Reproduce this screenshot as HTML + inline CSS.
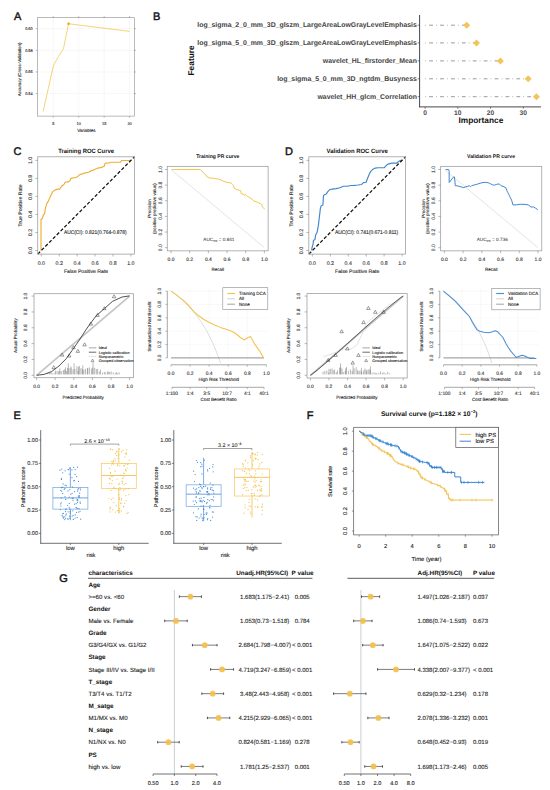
<!DOCTYPE html><html><head><meta charset="utf-8"><style>html,body{margin:0;padding:0;background:#fff;}svg{display:block;}text{text-rendering:geometricPrecision;}</style></head><body>
<svg width="550" height="790" viewBox="0 0 550 790" font-family='"Liberation Sans", sans-serif'>
<rect width="550" height="790" fill="#fff"/>
<text x="17.55" y="19.9" font-size="11" text-anchor="middle" fill="#111" stroke="#111" stroke-width="0.42">A</text>
<line x1="53.3" y1="17.7" x2="53.3" y2="116.1" stroke="#ECECEC" stroke-width="0.4"/>
<line x1="78.73" y1="17.7" x2="78.73" y2="116.1" stroke="#ECECEC" stroke-width="0.4"/>
<line x1="104.17" y1="17.7" x2="104.17" y2="116.1" stroke="#ECECEC" stroke-width="0.4"/>
<line x1="129.6" y1="17.7" x2="129.6" y2="116.1" stroke="#ECECEC" stroke-width="0.4"/>
<line x1="37.3" y1="28.7" x2="134.3" y2="28.7" stroke="#ECECEC" stroke-width="0.4"/>
<line x1="37.3" y1="50.33" x2="134.3" y2="50.33" stroke="#ECECEC" stroke-width="0.4"/>
<line x1="37.3" y1="71.97" x2="134.3" y2="71.97" stroke="#ECECEC" stroke-width="0.4"/>
<line x1="37.3" y1="93.6" x2="134.3" y2="93.6" stroke="#ECECEC" stroke-width="0.4"/>
<rect x="37.3" y="17.7" width="97" height="98.4" stroke="#8C8C8C" stroke-width="0.6" fill="none"/>
<line x1="53.3" y1="116.1" x2="53.3" y2="117.7" stroke="#666" stroke-width="0.45"/>
<line x1="53.3" y1="17.8" x2="53.3" y2="16.2" stroke="#666" stroke-width="0.45"/>
<text x="53.3" y="124.6" font-size="3.9" text-anchor="middle" fill="#222" stroke="#222" stroke-width="0.1">5</text>
<line x1="78.73" y1="116.1" x2="78.73" y2="117.7" stroke="#666" stroke-width="0.45"/>
<line x1="78.73" y1="17.8" x2="78.73" y2="16.2" stroke="#666" stroke-width="0.45"/>
<text x="78.73" y="124.6" font-size="3.9" text-anchor="middle" fill="#222" stroke="#222" stroke-width="0.1">10</text>
<line x1="104.17" y1="116.1" x2="104.17" y2="117.7" stroke="#666" stroke-width="0.45"/>
<line x1="104.17" y1="17.8" x2="104.17" y2="16.2" stroke="#666" stroke-width="0.45"/>
<text x="104.17" y="124.6" font-size="3.9" text-anchor="middle" fill="#222" stroke="#222" stroke-width="0.1">15</text>
<line x1="129.6" y1="116.1" x2="129.6" y2="117.7" stroke="#666" stroke-width="0.45"/>
<line x1="129.6" y1="17.8" x2="129.6" y2="16.2" stroke="#666" stroke-width="0.45"/>
<text x="129.6" y="124.6" font-size="3.9" text-anchor="middle" fill="#222" stroke="#222" stroke-width="0.1">20</text>
<line x1="37.3" y1="28.7" x2="35.7" y2="28.7" stroke="#666" stroke-width="0.45"/>
<line x1="134.3" y1="28.7" x2="135.9" y2="28.7" stroke="#666" stroke-width="0.45"/>
<text x="32.6" y="30.05" font-size="3.8" text-anchor="end" fill="#222" stroke="#222" stroke-width="0.1">0.60</text>
<line x1="37.3" y1="50.33" x2="35.7" y2="50.33" stroke="#666" stroke-width="0.45"/>
<line x1="134.3" y1="50.33" x2="135.9" y2="50.33" stroke="#666" stroke-width="0.45"/>
<text x="32.6" y="51.68" font-size="3.8" text-anchor="end" fill="#222" stroke="#222" stroke-width="0.1">0.58</text>
<line x1="37.3" y1="71.97" x2="35.7" y2="71.97" stroke="#666" stroke-width="0.45"/>
<line x1="134.3" y1="71.97" x2="135.9" y2="71.97" stroke="#666" stroke-width="0.45"/>
<text x="32.6" y="73.32" font-size="3.8" text-anchor="end" fill="#222" stroke="#222" stroke-width="0.1">0.56</text>
<line x1="37.3" y1="93.6" x2="35.7" y2="93.6" stroke="#666" stroke-width="0.45"/>
<line x1="134.3" y1="93.6" x2="135.9" y2="93.6" stroke="#666" stroke-width="0.45"/>
<text x="32.6" y="94.95" font-size="3.8" text-anchor="end" fill="#222" stroke="#222" stroke-width="0.1">0.54</text>
<text x="86.4" y="131.7" font-size="4.5" text-anchor="middle" fill="#222" stroke="#222" stroke-width="0.1">Variables</text>
<text x="20.9" y="69.4" font-size="4.35" text-anchor="middle" transform="rotate(-90 20.9 69.4)" fill="#222" stroke="#222" stroke-width="0.1">Accuracy (Cross-Validation)</text>
<polyline points="43.13,111.45 53.3,66.02 58.39,56.61 63.47,48.71 68.56,23.72 129.6,31.4" fill="none" stroke="#F4C448" stroke-width="0.75" stroke-linejoin="round"/>
<circle cx="68.56" cy="23.72" r="1.3" fill="#F0A500"/>
<text x="156.65" y="19.7" font-size="11" text-anchor="middle" fill="#111" stroke="#111" stroke-width="0.42">B</text>
<text x="416.9" y="27.2" font-size="6.92" text-anchor="end" font-weight="bold" fill="#444">log_sigma_2_0_mm_3D_glszm_LargeAreaLowGrayLevelEmphasis</text>
<line x1="417.6" y1="25.2" x2="419.6" y2="25.2" stroke="#333" stroke-width="0.6"/>
<line x1="425.2" y1="25.2" x2="466.67" y2="25.2" stroke="#9A9A9A" stroke-width="1.0" stroke-dasharray="0.7 3.3 3.8 3.1"/>
<path d="M466.67,21.7 L470.17,25.2 L466.67,28.7 L463.17,25.2 Z" fill="#F2C45A"/>
<text x="416.9" y="44.9" font-size="6.92" text-anchor="end" font-weight="bold" fill="#444">log_sigma_5_0_mm_3D_glszm_LargeAreaLowGrayLevelEmphasis</text>
<line x1="417.6" y1="42.9" x2="419.6" y2="42.9" stroke="#333" stroke-width="0.6"/>
<line x1="425.2" y1="42.9" x2="476.49" y2="42.9" stroke="#9A9A9A" stroke-width="1.0" stroke-dasharray="0.7 3.3 3.8 3.1"/>
<path d="M476.49,39.4 L479.99,42.9 L476.49,46.4 L472.99,42.9 Z" fill="#F2C45A"/>
<text x="416.9" y="62.9" font-size="6.92" text-anchor="end" font-weight="bold" fill="#444">wavelet_HL_firstorder_Mean</text>
<line x1="417.6" y1="60.9" x2="419.6" y2="60.9" stroke="#333" stroke-width="0.6"/>
<line x1="425.2" y1="60.9" x2="500.39" y2="60.9" stroke="#9A9A9A" stroke-width="1.0" stroke-dasharray="0.7 3.3 3.8 3.1"/>
<path d="M500.39,57.4 L503.89,60.9 L500.39,64.4 L496.89,60.9 Z" fill="#F2C45A"/>
<text x="416.9" y="80.8" font-size="6.92" text-anchor="end" font-weight="bold" fill="#444">log_sigma_5_0_mm_3D_ngtdm_Busyness</text>
<line x1="417.6" y1="78.8" x2="419.6" y2="78.8" stroke="#333" stroke-width="0.6"/>
<line x1="425.2" y1="78.8" x2="528.21" y2="78.8" stroke="#9A9A9A" stroke-width="1.0" stroke-dasharray="0.7 3.3 3.8 3.1"/>
<path d="M528.21,75.3 L531.71,78.8 L528.21,82.3 L524.71,78.8 Z" fill="#F2C45A"/>
<text x="416.9" y="98.7" font-size="6.92" text-anchor="end" font-weight="bold" fill="#444">wavelet_HH_glcm_Correlation</text>
<line x1="417.6" y1="96.7" x2="419.6" y2="96.7" stroke="#333" stroke-width="0.6"/>
<line x1="425.2" y1="96.7" x2="536.39" y2="96.7" stroke="#9A9A9A" stroke-width="1.0" stroke-dasharray="0.7 3.3 3.8 3.1"/>
<path d="M536.39,93.2 L539.89,96.7 L536.39,100.2 L532.89,96.7 Z" fill="#F2C45A"/>
<line x1="419.6" y1="15" x2="419.6" y2="107.2" stroke="#333" stroke-width="0.9"/>
<line x1="419.2" y1="106.9" x2="541" y2="106.9" stroke="#333" stroke-width="0.9"/>
<line x1="425.1" y1="106.9" x2="425.1" y2="108.8" stroke="#333" stroke-width="0.6"/>
<text x="425.1" y="114.9" font-size="6.7" text-anchor="middle" font-weight="bold" fill="#4D4D4D">0</text>
<line x1="457.83" y1="106.9" x2="457.83" y2="108.8" stroke="#333" stroke-width="0.6"/>
<text x="457.83" y="114.9" font-size="6.7" text-anchor="middle" font-weight="bold" fill="#4D4D4D">10</text>
<line x1="490.57" y1="106.9" x2="490.57" y2="108.8" stroke="#333" stroke-width="0.6"/>
<text x="490.57" y="114.9" font-size="6.7" text-anchor="middle" font-weight="bold" fill="#4D4D4D">20</text>
<line x1="523.3" y1="106.9" x2="523.3" y2="108.8" stroke="#333" stroke-width="0.6"/>
<text x="523.3" y="114.9" font-size="6.7" text-anchor="middle" font-weight="bold" fill="#4D4D4D">30</text>
<text x="480.9" y="122.7" font-size="8.3" text-anchor="middle" font-weight="bold" fill="#111">Importance</text>
<text x="193.8" y="60.4" font-size="8.4" text-anchor="middle" font-weight="bold" transform="rotate(-90 193.8 60.4)" fill="#111">Feature</text>
<text x="17.55" y="154.7" font-size="11" text-anchor="middle" fill="#111" stroke="#111" stroke-width="0.42">C</text>
<text x="289" y="154.7" font-size="11" text-anchor="middle" fill="#111" stroke="#111" stroke-width="0.42">D</text>
<text x="86.1" y="153.2" font-size="6.25" text-anchor="middle" font-weight="bold" textLength="55.8" lengthAdjust="spacingAndGlyphs" fill="#111">Training ROC Curve</text>
<polyline points="41,250.45 41,219.55 42.45,218.27 43.36,215 44.64,213.55 45.18,209.55 45.73,206.82 47,203.18 48.27,201.36 49.36,198.64 50.64,195.91 51.91,193.18 53,191.36 55.18,189.91 57.91,189.18 59.73,189.18 61.55,186.27 64.27,184.09 65.18,182.27 67.91,181.91 70.09,180.45 70.64,178.64 73.36,177.73 75.18,177.73 77.91,176.45 79.73,174.64 81.55,174.09 84.27,173.18 88.82,172.27 89.73,171.36 93.36,169.91 95.18,169.18 97.91,168.09 101.55,167.36 104.27,166.27 104.64,164.09 105.73,163.18 109.36,162.82 110.64,162.27 120.64,162.27 121.55,160.45 130.64,160.45" fill="none" stroke="#ECAF34" stroke-width="1.15" stroke-linejoin="round"/>
<line x1="37.72" y1="254.1" x2="134.48" y2="156.8" stroke="#111" stroke-width="1.25" stroke-dasharray="3.4 2.0"/>
<rect x="37.72" y="156.8" width="96.77" height="97.31" stroke="#A0A0A0" stroke-width="0.8" fill="none"/>
<line x1="41.3" y1="254.1" x2="41.3" y2="256.5" stroke="#888" stroke-width="0.6"/>
<text x="41.3" y="264.8" font-size="5.25" text-anchor="middle" fill="#333" stroke="#333" stroke-width="0.1">0.0</text>
<line x1="59.22" y1="254.1" x2="59.22" y2="256.5" stroke="#888" stroke-width="0.6"/>
<text x="59.22" y="264.8" font-size="5.25" text-anchor="middle" fill="#333" stroke="#333" stroke-width="0.1">0.2</text>
<line x1="77.14" y1="254.1" x2="77.14" y2="256.5" stroke="#888" stroke-width="0.6"/>
<text x="77.14" y="264.8" font-size="5.25" text-anchor="middle" fill="#333" stroke="#333" stroke-width="0.1">0.4</text>
<line x1="95.06" y1="254.1" x2="95.06" y2="256.5" stroke="#888" stroke-width="0.6"/>
<text x="95.06" y="264.8" font-size="5.25" text-anchor="middle" fill="#333" stroke="#333" stroke-width="0.1">0.6</text>
<line x1="112.98" y1="254.1" x2="112.98" y2="256.5" stroke="#888" stroke-width="0.6"/>
<text x="112.98" y="264.8" font-size="5.25" text-anchor="middle" fill="#333" stroke="#333" stroke-width="0.1">0.8</text>
<line x1="130.9" y1="254.1" x2="130.9" y2="256.5" stroke="#888" stroke-width="0.6"/>
<text x="130.9" y="264.8" font-size="5.25" text-anchor="middle" fill="#333" stroke="#333" stroke-width="0.1">1.0</text>
<line x1="37.72" y1="250.5" x2="35.32" y2="250.5" stroke="#888" stroke-width="0.6"/>
<text x="31.6" y="250.5" font-size="5.25" text-anchor="middle" transform="rotate(-90 31.6 250.5)" fill="#333" stroke="#333" stroke-width="0.1">0.0</text>
<line x1="37.72" y1="232.48" x2="35.32" y2="232.48" stroke="#888" stroke-width="0.6"/>
<text x="31.6" y="232.48" font-size="5.25" text-anchor="middle" transform="rotate(-90 31.6 232.48)" fill="#333" stroke="#333" stroke-width="0.1">0.2</text>
<line x1="37.72" y1="214.46" x2="35.32" y2="214.46" stroke="#888" stroke-width="0.6"/>
<text x="31.6" y="214.46" font-size="5.25" text-anchor="middle" transform="rotate(-90 31.6 214.46)" fill="#333" stroke="#333" stroke-width="0.1">0.4</text>
<line x1="37.72" y1="196.44" x2="35.32" y2="196.44" stroke="#888" stroke-width="0.6"/>
<text x="31.6" y="196.44" font-size="5.25" text-anchor="middle" transform="rotate(-90 31.6 196.44)" fill="#333" stroke="#333" stroke-width="0.1">0.6</text>
<line x1="37.72" y1="178.42" x2="35.32" y2="178.42" stroke="#888" stroke-width="0.6"/>
<text x="31.6" y="178.42" font-size="5.25" text-anchor="middle" transform="rotate(-90 31.6 178.42)" fill="#333" stroke="#333" stroke-width="0.1">0.8</text>
<line x1="37.72" y1="160.4" x2="35.32" y2="160.4" stroke="#888" stroke-width="0.6"/>
<text x="31.6" y="160.4" font-size="5.25" text-anchor="middle" transform="rotate(-90 31.6 160.4)" fill="#333" stroke="#333" stroke-width="0.1">1.0</text>
<text x="86.1" y="273.4" font-size="5.15" text-anchor="middle" fill="#222" stroke="#222" stroke-width="0.1">False Positive Rate</text>
<text x="22.1" y="205.45" font-size="5.15" text-anchor="middle" transform="rotate(-90 22.1 205.45)" fill="#222" stroke="#222" stroke-width="0.1">True Positive Rate</text>
<text x="63.9" y="234.1" font-size="5.3" textLength="62.7" lengthAdjust="spacingAndGlyphs" fill="#222" stroke="#222" stroke-width="0.1">AUC(CI): 0.821(0.764-0.878)</text>
<text x="357.2" y="153.2" font-size="6.25" text-anchor="middle" font-weight="bold" textLength="61.2" lengthAdjust="spacingAndGlyphs" fill="#111">Validation ROC Curve</text>
<polyline points="311.64,250.45 312,247.73 313.09,244.09 313.45,240.45 314.91,239.55 315.64,235 317.09,232.27 318,227.73 318.55,224.09 319.27,217.73 319.82,213.18 320.36,208.64 321.09,205.91 322.91,205 323.45,195.91 324,195 326.18,194.09 328,191.36 329.82,189.55 332.55,189.18 336.18,188.64 339.82,187.73 343.45,186.27 347.09,186.27 350.73,185.55 354.36,185.36 358,185 361.64,184.45 363.45,182.64 366.18,182.27 367.09,179.55 368.91,175 370.73,171.36 372.55,169.55 375.27,168.09 378,167.73 384.36,167.73 386.18,165.55 388,164.09 391.64,163.18 397.09,163.18 398,161.91 399.82,160.82 401.64,160.09" fill="none" stroke="#3F86CF" stroke-width="1.15" stroke-linejoin="round"/>
<line x1="308.82" y1="254.1" x2="405.58" y2="156.8" stroke="#111" stroke-width="1.25" stroke-dasharray="3.4 2.0"/>
<rect x="308.82" y="156.8" width="96.77" height="97.31" stroke="#A0A0A0" stroke-width="0.8" fill="none"/>
<line x1="312.4" y1="254.1" x2="312.4" y2="256.5" stroke="#888" stroke-width="0.6"/>
<text x="312.4" y="264.8" font-size="5.25" text-anchor="middle" fill="#333" stroke="#333" stroke-width="0.1">0.0</text>
<line x1="330.32" y1="254.1" x2="330.32" y2="256.5" stroke="#888" stroke-width="0.6"/>
<text x="330.32" y="264.8" font-size="5.25" text-anchor="middle" fill="#333" stroke="#333" stroke-width="0.1">0.2</text>
<line x1="348.24" y1="254.1" x2="348.24" y2="256.5" stroke="#888" stroke-width="0.6"/>
<text x="348.24" y="264.8" font-size="5.25" text-anchor="middle" fill="#333" stroke="#333" stroke-width="0.1">0.4</text>
<line x1="366.16" y1="254.1" x2="366.16" y2="256.5" stroke="#888" stroke-width="0.6"/>
<text x="366.16" y="264.8" font-size="5.25" text-anchor="middle" fill="#333" stroke="#333" stroke-width="0.1">0.6</text>
<line x1="384.08" y1="254.1" x2="384.08" y2="256.5" stroke="#888" stroke-width="0.6"/>
<text x="384.08" y="264.8" font-size="5.25" text-anchor="middle" fill="#333" stroke="#333" stroke-width="0.1">0.8</text>
<line x1="402" y1="254.1" x2="402" y2="256.5" stroke="#888" stroke-width="0.6"/>
<text x="402" y="264.8" font-size="5.25" text-anchor="middle" fill="#333" stroke="#333" stroke-width="0.1">1.0</text>
<line x1="308.82" y1="250.5" x2="306.42" y2="250.5" stroke="#888" stroke-width="0.6"/>
<text x="302.7" y="250.5" font-size="5.25" text-anchor="middle" transform="rotate(-90 302.7 250.5)" fill="#333" stroke="#333" stroke-width="0.1">0.0</text>
<line x1="308.82" y1="232.48" x2="306.42" y2="232.48" stroke="#888" stroke-width="0.6"/>
<text x="302.7" y="232.48" font-size="5.25" text-anchor="middle" transform="rotate(-90 302.7 232.48)" fill="#333" stroke="#333" stroke-width="0.1">0.2</text>
<line x1="308.82" y1="214.46" x2="306.42" y2="214.46" stroke="#888" stroke-width="0.6"/>
<text x="302.7" y="214.46" font-size="5.25" text-anchor="middle" transform="rotate(-90 302.7 214.46)" fill="#333" stroke="#333" stroke-width="0.1">0.4</text>
<line x1="308.82" y1="196.44" x2="306.42" y2="196.44" stroke="#888" stroke-width="0.6"/>
<text x="302.7" y="196.44" font-size="5.25" text-anchor="middle" transform="rotate(-90 302.7 196.44)" fill="#333" stroke="#333" stroke-width="0.1">0.6</text>
<line x1="308.82" y1="178.42" x2="306.42" y2="178.42" stroke="#888" stroke-width="0.6"/>
<text x="302.7" y="178.42" font-size="5.25" text-anchor="middle" transform="rotate(-90 302.7 178.42)" fill="#333" stroke="#333" stroke-width="0.1">0.8</text>
<line x1="308.82" y1="160.4" x2="306.42" y2="160.4" stroke="#888" stroke-width="0.6"/>
<text x="302.7" y="160.4" font-size="5.25" text-anchor="middle" transform="rotate(-90 302.7 160.4)" fill="#333" stroke="#333" stroke-width="0.1">1.0</text>
<text x="357.2" y="273.4" font-size="5.15" text-anchor="middle" fill="#222" stroke="#222" stroke-width="0.1">False Positive Rate</text>
<text x="293.2" y="205.45" font-size="5.15" text-anchor="middle" transform="rotate(-90 293.2 205.45)" fill="#222" stroke="#222" stroke-width="0.1">True Positive Rate</text>
<text x="334.9" y="234.1" font-size="5.3" textLength="63.3" lengthAdjust="spacingAndGlyphs" fill="#222" stroke="#222" stroke-width="0.1">AUC(CI): 0.741(0.671-0.811)</text>
<text x="217.8" y="157.5" font-size="5.3" text-anchor="middle" font-weight="bold" textLength="43.2" lengthAdjust="spacingAndGlyphs" fill="#111">Training PR curve</text>
<line x1="171" y1="169.5" x2="264.4" y2="247.7" stroke="#C8C8C8" stroke-width="0.5"/>
<polyline points="171.77,169.55 200.41,169.55 204.23,173.36 207.09,176.8 209.96,178.14 212.82,178.14 215.68,178.71 218.55,179.09 222.36,180.62 225.23,181.95 228.09,182.53 230.96,182.91 233.44,185.2 234.2,188.26 236.68,189.59 240.5,190.55 241.46,193.98 243.37,193.98 244.32,195.32 245.27,194.36 247.18,196.27 249.09,197.23 251.96,199.14 253.87,201.05 256.73,202 258.64,202.96 260.55,203.53 261.5,204.29 262.46,206.77 264.75,209.26" fill="none" stroke="#F4C64E" stroke-width="1.0" stroke-linejoin="round"/>
<rect x="167.26" y="166.37" width="100.87" height="84.46" stroke="#A0A0A0" stroke-width="0.8" fill="none"/>
<line x1="171" y1="250.83" x2="171" y2="253.23" stroke="#888" stroke-width="0.6"/>
<text x="171" y="261" font-size="4.95" text-anchor="middle" fill="#333" stroke="#333" stroke-width="0.1">0.0</text>
<line x1="189.68" y1="250.83" x2="189.68" y2="253.23" stroke="#888" stroke-width="0.6"/>
<text x="189.68" y="261" font-size="4.95" text-anchor="middle" fill="#333" stroke="#333" stroke-width="0.1">0.2</text>
<line x1="208.36" y1="250.83" x2="208.36" y2="253.23" stroke="#888" stroke-width="0.6"/>
<text x="208.36" y="261" font-size="4.95" text-anchor="middle" fill="#333" stroke="#333" stroke-width="0.1">0.4</text>
<line x1="227.04" y1="250.83" x2="227.04" y2="253.23" stroke="#888" stroke-width="0.6"/>
<text x="227.04" y="261" font-size="4.95" text-anchor="middle" fill="#333" stroke="#333" stroke-width="0.1">0.6</text>
<line x1="245.72" y1="250.83" x2="245.72" y2="253.23" stroke="#888" stroke-width="0.6"/>
<text x="245.72" y="261" font-size="4.95" text-anchor="middle" fill="#333" stroke="#333" stroke-width="0.1">0.8</text>
<line x1="264.4" y1="250.83" x2="264.4" y2="253.23" stroke="#888" stroke-width="0.6"/>
<text x="264.4" y="261" font-size="4.95" text-anchor="middle" fill="#333" stroke="#333" stroke-width="0.1">1.0</text>
<line x1="167.26" y1="247.7" x2="164.86" y2="247.7" stroke="#888" stroke-width="0.6"/>
<text x="161.76" y="247.7" font-size="4.95" text-anchor="middle" transform="rotate(-90 161.76 247.7)" fill="#333" stroke="#333" stroke-width="0.1">0.0</text>
<line x1="167.26" y1="232.06" x2="164.86" y2="232.06" stroke="#888" stroke-width="0.6"/>
<text x="161.76" y="232.06" font-size="4.95" text-anchor="middle" transform="rotate(-90 161.76 232.06)" fill="#333" stroke="#333" stroke-width="0.1">0.2</text>
<line x1="167.26" y1="216.42" x2="164.86" y2="216.42" stroke="#888" stroke-width="0.6"/>
<text x="161.76" y="216.42" font-size="4.95" text-anchor="middle" transform="rotate(-90 161.76 216.42)" fill="#333" stroke="#333" stroke-width="0.1">0.4</text>
<line x1="167.26" y1="200.78" x2="164.86" y2="200.78" stroke="#888" stroke-width="0.6"/>
<text x="161.76" y="200.78" font-size="4.95" text-anchor="middle" transform="rotate(-90 161.76 200.78)" fill="#333" stroke="#333" stroke-width="0.1">0.6</text>
<line x1="167.26" y1="185.14" x2="164.86" y2="185.14" stroke="#888" stroke-width="0.6"/>
<text x="161.76" y="185.14" font-size="4.95" text-anchor="middle" transform="rotate(-90 161.76 185.14)" fill="#333" stroke="#333" stroke-width="0.1">0.8</text>
<line x1="167.26" y1="169.5" x2="164.86" y2="169.5" stroke="#888" stroke-width="0.6"/>
<text x="161.76" y="169.5" font-size="4.95" text-anchor="middle" transform="rotate(-90 161.76 169.5)" fill="#333" stroke="#333" stroke-width="0.1">1.0</text>
<text x="217.7" y="271" font-size="4.5" text-anchor="middle" fill="#222" stroke="#222" stroke-width="0.1">Recall</text>
<text x="155.86" y="208.6" font-size="4.5" text-anchor="middle" transform="rotate(-90 155.86 208.6)" fill="#222" stroke="#222" stroke-width="0.1">(positive predictive value)</text>
<text x="151.16" y="208.6" font-size="4.5" text-anchor="middle" transform="rotate(-90 151.16 208.6)" fill="#222" stroke="#222" stroke-width="0.1">Precision</text>
<text x="203.3" y="240.9" font-size="4.7" fill="#222">AUC<tspan font-size="3.0" dy="0.9">PR</tspan><tspan dy="-0.9"> = 0.841</tspan></text>
<text x="491" y="157.5" font-size="5.3" text-anchor="middle" font-weight="bold" textLength="48" lengthAdjust="spacingAndGlyphs" fill="#111">Validation PR curve</text>
<line x1="444.4" y1="169.5" x2="538" y2="247.7" stroke="#C8C8C8" stroke-width="0.5"/>
<polyline points="445.73,169.55 448.59,169.55 449.16,171.45 449.16,182.53 450.5,181 451.84,179.09 453.36,177.18 454.32,176.8 454.89,181 455.27,185.77 457.18,185.77 459.09,186.35 461.95,187.11 463.86,187.68 465.77,186.73 467.68,186.35 469.59,185.77 470.55,186.73 471.5,185.77 473.41,185.2 476.27,184.44 480.09,183.29 482.96,182.53 485.82,182.34 488.68,182.91 490.59,183.86 492.5,184.82 494.41,185.2 496.32,184.44 499.18,183.86 501.09,185.77 503.96,186.73 505.86,187.68 506.82,190.55 507.77,192.46 508.73,194.36 509.68,196.27 510.64,198.18 511.59,200.09 512.16,202 512.93,204.86 516.37,204.86 520.18,204.29 524,204.29 528.2,204.86 529.73,205.82 530.68,206.96 533.55,206.96 535.46,208.11 537.75,209.64" fill="none" stroke="#3F86CF" stroke-width="1.0" stroke-linejoin="round"/>
<rect x="440.66" y="166.37" width="101.09" height="84.46" stroke="#A0A0A0" stroke-width="0.8" fill="none"/>
<line x1="444.4" y1="250.83" x2="444.4" y2="253.23" stroke="#888" stroke-width="0.6"/>
<text x="444.4" y="261" font-size="4.95" text-anchor="middle" fill="#333" stroke="#333" stroke-width="0.1">0.0</text>
<line x1="463.12" y1="250.83" x2="463.12" y2="253.23" stroke="#888" stroke-width="0.6"/>
<text x="463.12" y="261" font-size="4.95" text-anchor="middle" fill="#333" stroke="#333" stroke-width="0.1">0.2</text>
<line x1="481.84" y1="250.83" x2="481.84" y2="253.23" stroke="#888" stroke-width="0.6"/>
<text x="481.84" y="261" font-size="4.95" text-anchor="middle" fill="#333" stroke="#333" stroke-width="0.1">0.4</text>
<line x1="500.56" y1="250.83" x2="500.56" y2="253.23" stroke="#888" stroke-width="0.6"/>
<text x="500.56" y="261" font-size="4.95" text-anchor="middle" fill="#333" stroke="#333" stroke-width="0.1">0.6</text>
<line x1="519.28" y1="250.83" x2="519.28" y2="253.23" stroke="#888" stroke-width="0.6"/>
<text x="519.28" y="261" font-size="4.95" text-anchor="middle" fill="#333" stroke="#333" stroke-width="0.1">0.8</text>
<line x1="538" y1="250.83" x2="538" y2="253.23" stroke="#888" stroke-width="0.6"/>
<text x="538" y="261" font-size="4.95" text-anchor="middle" fill="#333" stroke="#333" stroke-width="0.1">1.0</text>
<line x1="440.66" y1="247.7" x2="438.26" y2="247.7" stroke="#888" stroke-width="0.6"/>
<text x="435.16" y="247.7" font-size="4.95" text-anchor="middle" transform="rotate(-90 435.16 247.7)" fill="#333" stroke="#333" stroke-width="0.1">0.0</text>
<line x1="440.66" y1="232.06" x2="438.26" y2="232.06" stroke="#888" stroke-width="0.6"/>
<text x="435.16" y="232.06" font-size="4.95" text-anchor="middle" transform="rotate(-90 435.16 232.06)" fill="#333" stroke="#333" stroke-width="0.1">0.2</text>
<line x1="440.66" y1="216.42" x2="438.26" y2="216.42" stroke="#888" stroke-width="0.6"/>
<text x="435.16" y="216.42" font-size="4.95" text-anchor="middle" transform="rotate(-90 435.16 216.42)" fill="#333" stroke="#333" stroke-width="0.1">0.4</text>
<line x1="440.66" y1="200.78" x2="438.26" y2="200.78" stroke="#888" stroke-width="0.6"/>
<text x="435.16" y="200.78" font-size="4.95" text-anchor="middle" transform="rotate(-90 435.16 200.78)" fill="#333" stroke="#333" stroke-width="0.1">0.6</text>
<line x1="440.66" y1="185.14" x2="438.26" y2="185.14" stroke="#888" stroke-width="0.6"/>
<text x="435.16" y="185.14" font-size="4.95" text-anchor="middle" transform="rotate(-90 435.16 185.14)" fill="#333" stroke="#333" stroke-width="0.1">0.8</text>
<line x1="440.66" y1="169.5" x2="438.26" y2="169.5" stroke="#888" stroke-width="0.6"/>
<text x="435.16" y="169.5" font-size="4.95" text-anchor="middle" transform="rotate(-90 435.16 169.5)" fill="#333" stroke="#333" stroke-width="0.1">1.0</text>
<text x="491.2" y="271" font-size="4.5" text-anchor="middle" fill="#222" stroke="#222" stroke-width="0.1">Recall</text>
<text x="429.26" y="208.6" font-size="4.5" text-anchor="middle" transform="rotate(-90 429.26 208.6)" fill="#222" stroke="#222" stroke-width="0.1">(positive predictive value)</text>
<text x="424.56" y="208.6" font-size="4.5" text-anchor="middle" transform="rotate(-90 424.56 208.6)" fill="#222" stroke="#222" stroke-width="0.1">Precision</text>
<text x="476.7" y="240.9" font-size="4.7" fill="#222">AUC<tspan font-size="3.0" dy="0.9">PR</tspan><tspan dy="-0.9"> = 0.736</tspan></text>
<line x1="47.76" y1="374.4" x2="47.76" y2="372.94" stroke="#6E6E6E" stroke-width="0.5"/>
<line x1="49.38" y1="374.4" x2="49.38" y2="372.62" stroke="#6E6E6E" stroke-width="0.5"/>
<line x1="51.06" y1="374.4" x2="51.06" y2="371.99" stroke="#6E6E6E" stroke-width="0.5"/>
<line x1="52.24" y1="374.4" x2="52.24" y2="373.34" stroke="#6E6E6E" stroke-width="0.5"/>
<line x1="54.13" y1="374.4" x2="54.13" y2="372.68" stroke="#6E6E6E" stroke-width="0.5"/>
<line x1="55.47" y1="374.4" x2="55.47" y2="370.7" stroke="#6E6E6E" stroke-width="0.5"/>
<line x1="57.02" y1="374.4" x2="57.02" y2="370.88" stroke="#6E6E6E" stroke-width="0.5"/>
<line x1="58.58" y1="374.4" x2="58.58" y2="371.18" stroke="#6E6E6E" stroke-width="0.5"/>
<line x1="59.83" y1="374.4" x2="59.83" y2="370.96" stroke="#6E6E6E" stroke-width="0.5"/>
<line x1="61.76" y1="374.4" x2="61.76" y2="370.95" stroke="#6E6E6E" stroke-width="0.5"/>
<line x1="63.56" y1="374.4" x2="63.56" y2="369.96" stroke="#6E6E6E" stroke-width="0.5"/>
<line x1="64.74" y1="374.4" x2="64.74" y2="369.27" stroke="#6E6E6E" stroke-width="0.5"/>
<line x1="66.4" y1="374.4" x2="66.4" y2="370.91" stroke="#6E6E6E" stroke-width="0.5"/>
<line x1="67.55" y1="374.4" x2="67.55" y2="367.9" stroke="#6E6E6E" stroke-width="0.5"/>
<line x1="69.1" y1="374.4" x2="69.1" y2="368.21" stroke="#6E6E6E" stroke-width="0.5"/>
<line x1="71.04" y1="374.4" x2="71.04" y2="367.79" stroke="#6E6E6E" stroke-width="0.5"/>
<line x1="73.01" y1="374.4" x2="73.01" y2="369.37" stroke="#6E6E6E" stroke-width="0.5"/>
<line x1="74.87" y1="374.4" x2="74.87" y2="368.94" stroke="#6E6E6E" stroke-width="0.5"/>
<line x1="76.86" y1="374.4" x2="76.86" y2="366.25" stroke="#6E6E6E" stroke-width="0.5"/>
<line x1="78.06" y1="374.4" x2="78.06" y2="370.85" stroke="#6E6E6E" stroke-width="0.5"/>
<line x1="79.38" y1="374.4" x2="79.38" y2="365.92" stroke="#6E6E6E" stroke-width="0.5"/>
<line x1="80.9" y1="374.4" x2="80.9" y2="368.11" stroke="#6E6E6E" stroke-width="0.5"/>
<line x1="82.3" y1="374.4" x2="82.3" y2="368.95" stroke="#6E6E6E" stroke-width="0.5"/>
<line x1="83.77" y1="374.4" x2="83.77" y2="369.96" stroke="#6E6E6E" stroke-width="0.5"/>
<line x1="85.43" y1="374.4" x2="85.43" y2="368.78" stroke="#6E6E6E" stroke-width="0.5"/>
<line x1="87.39" y1="374.4" x2="87.39" y2="368.35" stroke="#6E6E6E" stroke-width="0.5"/>
<line x1="89.37" y1="374.4" x2="89.37" y2="367.48" stroke="#6E6E6E" stroke-width="0.5"/>
<line x1="91.41" y1="374.4" x2="91.41" y2="368.54" stroke="#6E6E6E" stroke-width="0.5"/>
<line x1="92.68" y1="374.4" x2="92.68" y2="367.65" stroke="#6E6E6E" stroke-width="0.5"/>
<line x1="94.69" y1="374.4" x2="94.69" y2="367.73" stroke="#6E6E6E" stroke-width="0.5"/>
<line x1="96.33" y1="374.4" x2="96.33" y2="369" stroke="#6E6E6E" stroke-width="0.5"/>
<line x1="97.65" y1="374.4" x2="97.65" y2="368.81" stroke="#6E6E6E" stroke-width="0.5"/>
<line x1="99.3" y1="374.4" x2="99.3" y2="371.5" stroke="#6E6E6E" stroke-width="0.5"/>
<line x1="100.47" y1="374.4" x2="100.47" y2="369.62" stroke="#6E6E6E" stroke-width="0.5"/>
<line x1="102.51" y1="374.4" x2="102.51" y2="372.7" stroke="#6E6E6E" stroke-width="0.5"/>
<line x1="104.37" y1="374.4" x2="104.37" y2="371.99" stroke="#6E6E6E" stroke-width="0.5"/>
<line x1="105.62" y1="374.4" x2="105.62" y2="372.47" stroke="#6E6E6E" stroke-width="0.5"/>
<line x1="107.46" y1="374.4" x2="107.46" y2="371.25" stroke="#6E6E6E" stroke-width="0.5"/>
<line x1="108.61" y1="374.4" x2="108.61" y2="371.97" stroke="#6E6E6E" stroke-width="0.5"/>
<line x1="109.77" y1="374.4" x2="109.77" y2="371.82" stroke="#6E6E6E" stroke-width="0.5"/>
<line x1="111.19" y1="374.4" x2="111.19" y2="371.54" stroke="#6E6E6E" stroke-width="0.5"/>
<line x1="113.22" y1="374.4" x2="113.22" y2="372.4" stroke="#6E6E6E" stroke-width="0.5"/>
<line x1="115.27" y1="374.4" x2="115.27" y2="372.83" stroke="#6E6E6E" stroke-width="0.5"/>
<line x1="116.45" y1="374.4" x2="116.45" y2="372.23" stroke="#6E6E6E" stroke-width="0.5"/>
<line x1="117.6" y1="374.4" x2="117.6" y2="373.07" stroke="#6E6E6E" stroke-width="0.5"/>
<line x1="119.1" y1="374.4" x2="119.1" y2="372.21" stroke="#6E6E6E" stroke-width="0.5"/>
<line x1="68.31" y1="374.4" x2="68.31" y2="363.4" stroke="#6E6E6E" stroke-width="0.5"/>
<line x1="74.08" y1="374.4" x2="74.08" y2="363.4" stroke="#6E6E6E" stroke-width="0.5"/>
<line x1="70.92" y1="374.4" x2="70.92" y2="366.4" stroke="#6E6E6E" stroke-width="0.5"/>
<line x1="93.05" y1="374.4" x2="93.05" y2="362.4" stroke="#6E6E6E" stroke-width="0.5"/>
<line x1="65.43" y1="374.4" x2="65.43" y2="367.4" stroke="#6E6E6E" stroke-width="0.5"/>
<line x1="82.82" y1="374.4" x2="82.82" y2="365.4" stroke="#6E6E6E" stroke-width="0.5"/>
<line x1="87.75" y1="374.4" x2="87.75" y2="367.9" stroke="#6E6E6E" stroke-width="0.5"/>
<line x1="78.45" y1="374.4" x2="78.45" y2="366.9" stroke="#6E6E6E" stroke-width="0.5"/>
<line x1="59.85" y1="374.4" x2="59.85" y2="368.4" stroke="#6E6E6E" stroke-width="0.5"/>
<line x1="36.6" y1="375.3" x2="129.6" y2="296.1" stroke="#C4C4C4" stroke-width="1.7"/>
<polyline points="36.6,375.3 44.13,374.35 51.57,371.58 58.92,366.03 66.36,358.59 72.87,349.32 79.38,340.06 85.89,329.84 90.54,323.34 96.03,315.98 104.4,308.53 112.77,301.17 121.97,297.05 129.6,295.86" fill="none" stroke="#333" stroke-width="0.85" stroke-linejoin="round"/>
<path d="M53.77,365.64 L55.52,368.69 L52.02,368.69 Z" fill="none" stroke="#3A3A3A" stroke-width="0.5"/>
<path d="M62.12,353.05 L63.87,356.1 L60.37,356.1 Z" fill="none" stroke="#3A3A3A" stroke-width="0.5"/>
<path d="M69.15,353.92 L70.9,356.97 L67.4,356.97 Z" fill="none" stroke="#3A3A3A" stroke-width="0.5"/>
<path d="M73.43,345.6 L75.18,348.65 L71.68,348.65 Z" fill="none" stroke="#3A3A3A" stroke-width="0.5"/>
<path d="M77.89,349.32 L79.64,352.37 L76.14,352.37 Z" fill="none" stroke="#3A3A3A" stroke-width="0.5"/>
<path d="M84.59,342.83 L86.34,345.88 L82.84,345.88 Z" fill="none" stroke="#3A3A3A" stroke-width="0.5"/>
<path d="M90.82,322.08 L92.57,325.13 L89.07,325.13 Z" fill="none" stroke="#3A3A3A" stroke-width="0.5"/>
<path d="M97.52,313.37 L99.27,316.42 L95.77,316.42 Z" fill="none" stroke="#3A3A3A" stroke-width="0.5"/>
<path d="M104.4,306.63 L106.15,309.68 L102.65,309.68 Z" fill="none" stroke="#3A3A3A" stroke-width="0.5"/>
<path d="M114.07,294.75 L115.82,297.8 L112.32,297.8 Z" fill="none" stroke="#3A3A3A" stroke-width="0.5"/>
<rect x="34" y="293.7" width="99.4" height="84" stroke="#A0A0A0" stroke-width="0.8" fill="none"/>
<line x1="36.6" y1="377.7" x2="36.6" y2="380.1" stroke="#888" stroke-width="0.6"/>
<text x="36.6" y="387.6" font-size="4.85" text-anchor="middle" fill="#333" stroke="#333" stroke-width="0.1">0.0</text>
<line x1="55.2" y1="377.7" x2="55.2" y2="380.1" stroke="#888" stroke-width="0.6"/>
<text x="55.2" y="387.6" font-size="4.85" text-anchor="middle" fill="#333" stroke="#333" stroke-width="0.1">0.2</text>
<line x1="73.8" y1="377.7" x2="73.8" y2="380.1" stroke="#888" stroke-width="0.6"/>
<text x="73.8" y="387.6" font-size="4.85" text-anchor="middle" fill="#333" stroke="#333" stroke-width="0.1">0.4</text>
<line x1="92.4" y1="377.7" x2="92.4" y2="380.1" stroke="#888" stroke-width="0.6"/>
<text x="92.4" y="387.6" font-size="4.85" text-anchor="middle" fill="#333" stroke="#333" stroke-width="0.1">0.6</text>
<line x1="111" y1="377.7" x2="111" y2="380.1" stroke="#888" stroke-width="0.6"/>
<text x="111" y="387.6" font-size="4.85" text-anchor="middle" fill="#333" stroke="#333" stroke-width="0.1">0.8</text>
<line x1="129.6" y1="377.7" x2="129.6" y2="380.1" stroke="#888" stroke-width="0.6"/>
<text x="129.6" y="387.6" font-size="4.85" text-anchor="middle" fill="#333" stroke="#333" stroke-width="0.1">1.0</text>
<line x1="34" y1="375.3" x2="31.6" y2="375.3" stroke="#888" stroke-width="0.6"/>
<text x="27.5" y="375.3" font-size="4.85" text-anchor="middle" transform="rotate(-90 27.5 375.3)" fill="#333" stroke="#333" stroke-width="0.1">0.0</text>
<line x1="34" y1="359.46" x2="31.6" y2="359.46" stroke="#888" stroke-width="0.6"/>
<text x="27.5" y="359.46" font-size="4.85" text-anchor="middle" transform="rotate(-90 27.5 359.46)" fill="#333" stroke="#333" stroke-width="0.1">0.2</text>
<line x1="34" y1="343.62" x2="31.6" y2="343.62" stroke="#888" stroke-width="0.6"/>
<text x="27.5" y="343.62" font-size="4.85" text-anchor="middle" transform="rotate(-90 27.5 343.62)" fill="#333" stroke="#333" stroke-width="0.1">0.4</text>
<line x1="34" y1="327.78" x2="31.6" y2="327.78" stroke="#888" stroke-width="0.6"/>
<text x="27.5" y="327.78" font-size="4.85" text-anchor="middle" transform="rotate(-90 27.5 327.78)" fill="#333" stroke="#333" stroke-width="0.1">0.6</text>
<line x1="34" y1="311.94" x2="31.6" y2="311.94" stroke="#888" stroke-width="0.6"/>
<text x="27.5" y="311.94" font-size="4.85" text-anchor="middle" transform="rotate(-90 27.5 311.94)" fill="#333" stroke="#333" stroke-width="0.1">0.8</text>
<line x1="34" y1="296.1" x2="31.6" y2="296.1" stroke="#888" stroke-width="0.6"/>
<text x="27.5" y="296.1" font-size="4.85" text-anchor="middle" transform="rotate(-90 27.5 296.1)" fill="#333" stroke="#333" stroke-width="0.1">1.0</text>
<text x="83.1" y="399" font-size="4.5" text-anchor="middle" fill="#222" stroke="#222" stroke-width="0.1">Predicted Probability</text>
<text x="16.6" y="335.7" font-size="4.5" text-anchor="middle" transform="rotate(-90 16.6 335.7)" fill="#222" stroke="#222" stroke-width="0.1">Actual Probability</text>
<line x1="88.8" y1="347.8" x2="96.3" y2="347.8" stroke="#C4C4C4" stroke-width="1.5"/>
<line x1="88.8" y1="352.2" x2="96.3" y2="352.2" stroke="#3A3A3A" stroke-width="0.75"/>
<line x1="88.8" y1="356.4" x2="96.3" y2="356.4" stroke="#CFCFCF" stroke-width="0.6"/>
<path d="M92.55,359.1 L94,361.65 L91.1,361.65 Z" fill="none" stroke="#3A3A3A" stroke-width="0.45"/>
<text x="98.7" y="349.1" font-size="3.75" fill="#222" stroke="#222" stroke-width="0.1">Ideal</text>
<text x="98.7" y="353.5" font-size="3.75" fill="#222" stroke="#222" stroke-width="0.1">Logistic calibration</text>
<text x="98.7" y="357.7" font-size="3.75" fill="#222" stroke="#222" stroke-width="0.1">Nonparametric</text>
<text x="98.7" y="362" font-size="3.75" fill="#222" stroke="#222" stroke-width="0.1">Grouped observation</text>
<line x1="323.02" y1="374.4" x2="323.02" y2="371.67" stroke="#6E6E6E" stroke-width="0.5"/>
<line x1="324.82" y1="374.4" x2="324.82" y2="370.92" stroke="#6E6E6E" stroke-width="0.5"/>
<line x1="326.81" y1="374.4" x2="326.81" y2="370.64" stroke="#6E6E6E" stroke-width="0.5"/>
<line x1="328.78" y1="374.4" x2="328.78" y2="372.69" stroke="#6E6E6E" stroke-width="0.5"/>
<line x1="330.33" y1="374.4" x2="330.33" y2="368.85" stroke="#6E6E6E" stroke-width="0.5"/>
<line x1="332.04" y1="374.4" x2="332.04" y2="368.44" stroke="#6E6E6E" stroke-width="0.5"/>
<line x1="333.26" y1="374.4" x2="333.26" y2="370.09" stroke="#6E6E6E" stroke-width="0.5"/>
<line x1="334.6" y1="374.4" x2="334.6" y2="369.46" stroke="#6E6E6E" stroke-width="0.5"/>
<line x1="336.25" y1="374.4" x2="336.25" y2="371.98" stroke="#6E6E6E" stroke-width="0.5"/>
<line x1="337.56" y1="374.4" x2="337.56" y2="370.47" stroke="#6E6E6E" stroke-width="0.5"/>
<line x1="339.53" y1="374.4" x2="339.53" y2="367.7" stroke="#6E6E6E" stroke-width="0.5"/>
<line x1="340.79" y1="374.4" x2="340.79" y2="367.53" stroke="#6E6E6E" stroke-width="0.5"/>
<line x1="342.03" y1="374.4" x2="342.03" y2="368.57" stroke="#6E6E6E" stroke-width="0.5"/>
<line x1="343.26" y1="374.4" x2="343.26" y2="371.98" stroke="#6E6E6E" stroke-width="0.5"/>
<line x1="345.19" y1="374.4" x2="345.19" y2="370.95" stroke="#6E6E6E" stroke-width="0.5"/>
<line x1="346.5" y1="374.4" x2="346.5" y2="366.98" stroke="#6E6E6E" stroke-width="0.5"/>
<line x1="348.42" y1="374.4" x2="348.42" y2="370.64" stroke="#6E6E6E" stroke-width="0.5"/>
<line x1="350.43" y1="374.4" x2="350.43" y2="369.35" stroke="#6E6E6E" stroke-width="0.5"/>
<line x1="352.17" y1="374.4" x2="352.17" y2="371.03" stroke="#6E6E6E" stroke-width="0.5"/>
<line x1="354.16" y1="374.4" x2="354.16" y2="368.42" stroke="#6E6E6E" stroke-width="0.5"/>
<line x1="356.17" y1="374.4" x2="356.17" y2="367.25" stroke="#6E6E6E" stroke-width="0.5"/>
<line x1="357.56" y1="374.4" x2="357.56" y2="370.09" stroke="#6E6E6E" stroke-width="0.5"/>
<line x1="358.83" y1="374.4" x2="358.83" y2="371.26" stroke="#6E6E6E" stroke-width="0.5"/>
<line x1="360" y1="374.4" x2="360" y2="370.48" stroke="#6E6E6E" stroke-width="0.5"/>
<line x1="361.67" y1="374.4" x2="361.67" y2="372.12" stroke="#6E6E6E" stroke-width="0.5"/>
<line x1="363.42" y1="374.4" x2="363.42" y2="370.61" stroke="#6E6E6E" stroke-width="0.5"/>
<line x1="364.82" y1="374.4" x2="364.82" y2="368.6" stroke="#6E6E6E" stroke-width="0.5"/>
<line x1="366.38" y1="374.4" x2="366.38" y2="371.14" stroke="#6E6E6E" stroke-width="0.5"/>
<line x1="367.94" y1="374.4" x2="367.94" y2="369.85" stroke="#6E6E6E" stroke-width="0.5"/>
<line x1="369.1" y1="374.4" x2="369.1" y2="369.12" stroke="#6E6E6E" stroke-width="0.5"/>
<line x1="370.24" y1="374.4" x2="370.24" y2="370.23" stroke="#6E6E6E" stroke-width="0.5"/>
<line x1="372.14" y1="374.4" x2="372.14" y2="372.95" stroke="#6E6E6E" stroke-width="0.5"/>
<line x1="373.98" y1="374.4" x2="373.98" y2="372.09" stroke="#6E6E6E" stroke-width="0.5"/>
<line x1="375.63" y1="374.4" x2="375.63" y2="373.2" stroke="#6E6E6E" stroke-width="0.5"/>
<line x1="376.79" y1="374.4" x2="376.79" y2="372.82" stroke="#6E6E6E" stroke-width="0.5"/>
<line x1="378.79" y1="374.4" x2="378.79" y2="372.89" stroke="#6E6E6E" stroke-width="0.5"/>
<line x1="380.6" y1="374.4" x2="380.6" y2="371.31" stroke="#6E6E6E" stroke-width="0.5"/>
<line x1="382.59" y1="374.4" x2="382.59" y2="372.68" stroke="#6E6E6E" stroke-width="0.5"/>
<line x1="384.03" y1="374.4" x2="384.03" y2="372.33" stroke="#6E6E6E" stroke-width="0.5"/>
<line x1="385.87" y1="374.4" x2="385.87" y2="373.23" stroke="#6E6E6E" stroke-width="0.5"/>
<line x1="387.68" y1="374.4" x2="387.68" y2="371.8" stroke="#6E6E6E" stroke-width="0.5"/>
<line x1="389.59" y1="374.4" x2="389.59" y2="373.4" stroke="#6E6E6E" stroke-width="0.5"/>
<line x1="340.56" y1="374.4" x2="340.56" y2="363.4" stroke="#6E6E6E" stroke-width="0.5"/>
<line x1="353.09" y1="374.4" x2="353.09" y2="365.4" stroke="#6E6E6E" stroke-width="0.5"/>
<line x1="370.44" y1="374.4" x2="370.44" y2="366.4" stroke="#6E6E6E" stroke-width="0.5"/>
<line x1="328.96" y1="374.4" x2="328.96" y2="368.9" stroke="#6E6E6E" stroke-width="0.5"/>
<line x1="345.66" y1="374.4" x2="345.66" y2="368.4" stroke="#6E6E6E" stroke-width="0.5"/>
<line x1="361.44" y1="374.4" x2="361.44" y2="367.9" stroke="#6E6E6E" stroke-width="0.5"/>
<line x1="366.08" y1="374.4" x2="366.08" y2="369.4" stroke="#6E6E6E" stroke-width="0.5"/>
<line x1="310.4" y1="375.3" x2="403.2" y2="296.1" stroke="#C4C4C4" stroke-width="1.7"/>
<polyline points="323.11,356.85 333.6,353.12 343.16,349.16 350.77,349.16 356.52,345.36 362.28,333.88 366.08,324.37 373.69,316.69 381.39,310.99 390.95,303.39" fill="none" stroke="#CFCFCF" stroke-width="0.6" stroke-linejoin="round"/>
<polyline points="310.4,375.3 311.33,374.68 312.26,374 313.18,373.3 314.11,372.59 315.04,371.86 315.97,371.12 316.9,370.37 317.82,369.61 318.75,368.85 319.68,368.08 320.61,367.3 321.54,366.52 322.46,365.73 323.39,364.94 324.32,364.15 325.25,363.35 326.18,362.55 327.1,361.74 328.03,360.93 328.96,360.12 329.89,359.31 330.82,358.49 331.74,357.67 332.67,356.85 333.6,356.03 334.53,355.2 335.46,354.38 336.38,353.55 337.31,352.72 338.24,351.89 339.17,351.05 340.1,350.22 341.02,349.38 341.95,348.55 342.88,347.71 343.81,346.87 344.74,346.03 345.66,345.19 346.59,344.35 347.52,343.51 348.45,342.67 349.38,341.83 350.3,340.99 351.23,340.15 352.16,339.31 353.09,338.47 354.02,337.63 354.94,336.79 355.87,335.95 356.8,335.11 357.73,334.27 358.66,333.43 359.58,332.59 360.51,331.75 361.44,330.92 362.37,330.08 363.3,329.25 364.22,328.42 365.15,327.58 366.08,326.75 367.01,325.92 367.94,325.1 368.86,324.27 369.79,323.45 370.72,322.62 371.65,321.8 372.58,320.98 373.5,320.17 374.43,319.35 375.36,318.54 376.29,317.73 377.22,316.92 378.14,316.11 379.07,315.31 380,314.51 380.93,313.71 381.86,312.92 382.78,312.13 383.71,311.34 384.64,310.55 385.57,309.77 386.5,309 387.42,308.22 388.35,307.45 389.28,306.69 390.21,305.93 391.14,305.17 392.06,304.42 392.99,303.68 393.92,302.94 394.85,302.21 395.78,301.48 396.7,300.76 397.63,300.05 398.56,299.35 399.49,298.66 400.42,297.98 401.34,297.32 402.27,296.68 403.2,296.1" fill="none" stroke="#333" stroke-width="0.85" stroke-linejoin="round"/>
<path d="M328.29,358.35 L330.04,361.4 L326.54,361.4 Z" fill="none" stroke="#3A3A3A" stroke-width="0.5"/>
<path d="M335.55,353.36 L337.3,356.41 L333.8,356.41 Z" fill="none" stroke="#3A3A3A" stroke-width="0.5"/>
<path d="M341.66,329.68 L343.41,332.73 L339.91,332.73 Z" fill="none" stroke="#3A3A3A" stroke-width="0.5"/>
<path d="M347.38,346.87 L349.13,349.92 L345.63,349.92 Z" fill="none" stroke="#3A3A3A" stroke-width="0.5"/>
<path d="M358.47,353.36 L360.22,356.41 L356.72,356.41 Z" fill="none" stroke="#3A3A3A" stroke-width="0.5"/>
<path d="M352.72,361.04 L354.47,364.09 L350.97,364.09 Z" fill="none" stroke="#3A3A3A" stroke-width="0.5"/>
<path d="M363.57,320.57 L365.32,323.62 L361.82,323.62 Z" fill="none" stroke="#3A3A3A" stroke-width="0.5"/>
<path d="M368.4,306.4 L370.15,309.45 L366.65,309.45 Z" fill="none" stroke="#3A3A3A" stroke-width="0.5"/>
<path d="M375.27,310.28 L377.02,313.33 L373.52,313.33 Z" fill="none" stroke="#3A3A3A" stroke-width="0.5"/>
<path d="M383.62,310.28 L385.37,313.33 L381.87,313.33 Z" fill="none" stroke="#3A3A3A" stroke-width="0.5"/>
<rect x="307" y="293.6" width="100.2" height="84.4" stroke="#A0A0A0" stroke-width="0.8" fill="none"/>
<line x1="310.4" y1="378" x2="310.4" y2="380.4" stroke="#888" stroke-width="0.6"/>
<text x="310.4" y="387.6" font-size="4.85" text-anchor="middle" fill="#333" stroke="#333" stroke-width="0.1">0.0</text>
<line x1="328.96" y1="378" x2="328.96" y2="380.4" stroke="#888" stroke-width="0.6"/>
<text x="328.96" y="387.6" font-size="4.85" text-anchor="middle" fill="#333" stroke="#333" stroke-width="0.1">0.2</text>
<line x1="347.52" y1="378" x2="347.52" y2="380.4" stroke="#888" stroke-width="0.6"/>
<text x="347.52" y="387.6" font-size="4.85" text-anchor="middle" fill="#333" stroke="#333" stroke-width="0.1">0.4</text>
<line x1="366.08" y1="378" x2="366.08" y2="380.4" stroke="#888" stroke-width="0.6"/>
<text x="366.08" y="387.6" font-size="4.85" text-anchor="middle" fill="#333" stroke="#333" stroke-width="0.1">0.6</text>
<line x1="384.64" y1="378" x2="384.64" y2="380.4" stroke="#888" stroke-width="0.6"/>
<text x="384.64" y="387.6" font-size="4.85" text-anchor="middle" fill="#333" stroke="#333" stroke-width="0.1">0.8</text>
<line x1="403.2" y1="378" x2="403.2" y2="380.4" stroke="#888" stroke-width="0.6"/>
<text x="403.2" y="387.6" font-size="4.85" text-anchor="middle" fill="#333" stroke="#333" stroke-width="0.1">1.0</text>
<line x1="307" y1="375.3" x2="304.6" y2="375.3" stroke="#888" stroke-width="0.6"/>
<text x="300.5" y="375.3" font-size="4.85" text-anchor="middle" transform="rotate(-90 300.5 375.3)" fill="#333" stroke="#333" stroke-width="0.1">0.0</text>
<line x1="307" y1="359.46" x2="304.6" y2="359.46" stroke="#888" stroke-width="0.6"/>
<text x="300.5" y="359.46" font-size="4.85" text-anchor="middle" transform="rotate(-90 300.5 359.46)" fill="#333" stroke="#333" stroke-width="0.1">0.2</text>
<line x1="307" y1="343.62" x2="304.6" y2="343.62" stroke="#888" stroke-width="0.6"/>
<text x="300.5" y="343.62" font-size="4.85" text-anchor="middle" transform="rotate(-90 300.5 343.62)" fill="#333" stroke="#333" stroke-width="0.1">0.4</text>
<line x1="307" y1="327.78" x2="304.6" y2="327.78" stroke="#888" stroke-width="0.6"/>
<text x="300.5" y="327.78" font-size="4.85" text-anchor="middle" transform="rotate(-90 300.5 327.78)" fill="#333" stroke="#333" stroke-width="0.1">0.6</text>
<line x1="307" y1="311.94" x2="304.6" y2="311.94" stroke="#888" stroke-width="0.6"/>
<text x="300.5" y="311.94" font-size="4.85" text-anchor="middle" transform="rotate(-90 300.5 311.94)" fill="#333" stroke="#333" stroke-width="0.1">0.8</text>
<line x1="307" y1="296.1" x2="304.6" y2="296.1" stroke="#888" stroke-width="0.6"/>
<text x="300.5" y="296.1" font-size="4.85" text-anchor="middle" transform="rotate(-90 300.5 296.1)" fill="#333" stroke="#333" stroke-width="0.1">1.0</text>
<text x="356.8" y="399" font-size="4.5" text-anchor="middle" fill="#222" stroke="#222" stroke-width="0.1">Predicted Probability</text>
<text x="289.6" y="335.7" font-size="4.5" text-anchor="middle" transform="rotate(-90 289.6 335.7)" fill="#222" stroke="#222" stroke-width="0.1">Actual Probability</text>
<line x1="362.4" y1="347.8" x2="369.9" y2="347.8" stroke="#C4C4C4" stroke-width="1.5"/>
<line x1="362.4" y1="352.2" x2="369.9" y2="352.2" stroke="#3A3A3A" stroke-width="0.75"/>
<line x1="362.4" y1="356.4" x2="369.9" y2="356.4" stroke="#CFCFCF" stroke-width="0.6"/>
<path d="M366.15,359.1 L367.6,361.65 L364.7,361.65 Z" fill="none" stroke="#3A3A3A" stroke-width="0.45"/>
<text x="372.3" y="349.1" font-size="3.75" fill="#222" stroke="#222" stroke-width="0.1">Ideal</text>
<text x="372.3" y="353.5" font-size="3.75" fill="#222" stroke="#222" stroke-width="0.1">Logistic calibration</text>
<text x="372.3" y="357.7" font-size="3.75" fill="#222" stroke="#222" stroke-width="0.1">Nonparametric</text>
<text x="372.3" y="362" font-size="3.75" fill="#222" stroke="#222" stroke-width="0.1">Grouped observation</text>
<line x1="190.08" y1="289" x2="190.08" y2="361" stroke="#EFEFEF" stroke-width="0.4"/>
<line x1="209.16" y1="289" x2="209.16" y2="361" stroke="#EFEFEF" stroke-width="0.4"/>
<line x1="228.24" y1="289" x2="228.24" y2="361" stroke="#EFEFEF" stroke-width="0.4"/>
<line x1="247.32" y1="289" x2="247.32" y2="361" stroke="#EFEFEF" stroke-width="0.4"/>
<line x1="169.09" y1="344.54" x2="268.31" y2="344.54" stroke="#EFEFEF" stroke-width="0.4"/>
<line x1="169.09" y1="331.18" x2="268.31" y2="331.18" stroke="#EFEFEF" stroke-width="0.4"/>
<line x1="169.09" y1="317.82" x2="268.31" y2="317.82" stroke="#EFEFEF" stroke-width="0.4"/>
<line x1="169.09" y1="304.46" x2="268.31" y2="304.46" stroke="#EFEFEF" stroke-width="0.4"/>
<line x1="169.09" y1="291.1" x2="268.31" y2="291.1" stroke="#EFEFEF" stroke-width="0.4"/>
<polyline points="171,291.1 171.95,291.77 172.91,292.46 173.86,293.17 174.82,293.88 175.77,294.62 176.72,295.36 177.68,296.13 178.63,296.91 179.59,297.71 180.54,298.52 181.49,299.36 182.45,300.21 183.4,301.08 184.36,301.97 185.31,302.89 186.26,303.82 187.22,304.78 188.17,305.76 189.13,306.77 190.08,307.8 191.03,308.86 191.99,309.94 192.94,311.05 193.9,312.19 194.85,313.37 195.8,314.57 196.76,315.81 197.71,317.08 198.67,318.38 199.62,319.73 200.57,321.11 201.53,322.54 202.48,324 203.44,325.51 204.39,327.07 205.34,328.68 206.3,330.33 207.25,332.04 208.21,333.81 209.16,335.63 210.11,337.52 211.07,339.47 212.02,341.49 212.98,343.59 213.93,345.75 214.88,348 215.84,350.34 216.79,352.76 217.75,355.28 218.7,357.9 219.65,360.63 220.61,363.11" fill="none" stroke="#C8C8C8" stroke-width="0.65" stroke-linejoin="round"/>
<line x1="171" y1="357.9" x2="264.01" y2="357.9" stroke="#8A8A8A" stroke-width="0.95"/>
<polyline points="171.11,291.11 176.45,294.93 182.18,299.32 186,302.56 189.82,306.95 193.64,311.35 198.41,315.55 203.18,318.98 208.91,322.23 214.64,325.09 220.36,327.38 226.09,329.29 231.82,331.2 236.59,334.26 240.41,337.5 244.23,339.98 248.05,337.5 250.53,336.55 254.73,344.18 259.5,350.86 263.7,358.12" fill="none" stroke="#F3C24C" stroke-width="1.05" stroke-linejoin="round"/>
<line x1="167.3" y1="357.9" x2="167.3" y2="291.1" stroke="#8A8A8A" stroke-width="0.75"/>
<line x1="167.3" y1="357.9" x2="165.5" y2="357.9" stroke="#8A8A8A" stroke-width="0.6"/>
<text x="161" y="357.9" font-size="4.9" text-anchor="middle" transform="rotate(-90 161 357.9)" fill="#333" stroke="#333" stroke-width="0.1">0.0</text>
<line x1="167.3" y1="344.54" x2="165.5" y2="344.54" stroke="#8A8A8A" stroke-width="0.6"/>
<text x="161" y="344.54" font-size="4.9" text-anchor="middle" transform="rotate(-90 161 344.54)" fill="#333" stroke="#333" stroke-width="0.1">0.2</text>
<line x1="167.3" y1="331.18" x2="165.5" y2="331.18" stroke="#8A8A8A" stroke-width="0.6"/>
<text x="161" y="331.18" font-size="4.9" text-anchor="middle" transform="rotate(-90 161 331.18)" fill="#333" stroke="#333" stroke-width="0.1">0.4</text>
<line x1="167.3" y1="317.82" x2="165.5" y2="317.82" stroke="#8A8A8A" stroke-width="0.6"/>
<text x="161" y="317.82" font-size="4.9" text-anchor="middle" transform="rotate(-90 161 317.82)" fill="#333" stroke="#333" stroke-width="0.1">0.6</text>
<line x1="167.3" y1="304.46" x2="165.5" y2="304.46" stroke="#8A8A8A" stroke-width="0.6"/>
<text x="161" y="304.46" font-size="4.9" text-anchor="middle" transform="rotate(-90 161 304.46)" fill="#333" stroke="#333" stroke-width="0.1">0.8</text>
<line x1="167.3" y1="291.1" x2="165.5" y2="291.1" stroke="#8A8A8A" stroke-width="0.6"/>
<text x="161" y="291.1" font-size="4.9" text-anchor="middle" transform="rotate(-90 161 291.1)" fill="#333" stroke="#333" stroke-width="0.1">1.0</text>
<text x="150.6" y="326.5" font-size="4.5" text-anchor="middle" transform="rotate(-90 150.6 326.5)" fill="#222" stroke="#222" stroke-width="0.1">Standardized Net Benefit</text>
<line x1="171" y1="364.8" x2="266.4" y2="364.8" stroke="#8A8A8A" stroke-width="0.75"/>
<line x1="171" y1="364.8" x2="171" y2="366.6" stroke="#8A8A8A" stroke-width="0.6"/>
<text x="171" y="374.9" font-size="4.9" text-anchor="middle" fill="#333" stroke="#333" stroke-width="0.1">0.0</text>
<line x1="190.08" y1="364.8" x2="190.08" y2="366.6" stroke="#8A8A8A" stroke-width="0.6"/>
<text x="190.08" y="374.9" font-size="4.9" text-anchor="middle" fill="#333" stroke="#333" stroke-width="0.1">0.2</text>
<line x1="209.16" y1="364.8" x2="209.16" y2="366.6" stroke="#8A8A8A" stroke-width="0.6"/>
<text x="209.16" y="374.9" font-size="4.9" text-anchor="middle" fill="#333" stroke="#333" stroke-width="0.1">0.4</text>
<line x1="228.24" y1="364.8" x2="228.24" y2="366.6" stroke="#8A8A8A" stroke-width="0.6"/>
<text x="228.24" y="374.9" font-size="4.9" text-anchor="middle" fill="#333" stroke="#333" stroke-width="0.1">0.6</text>
<line x1="247.32" y1="364.8" x2="247.32" y2="366.6" stroke="#8A8A8A" stroke-width="0.6"/>
<text x="247.32" y="374.9" font-size="4.9" text-anchor="middle" fill="#333" stroke="#333" stroke-width="0.1">0.8</text>
<line x1="266.4" y1="364.8" x2="266.4" y2="366.6" stroke="#8A8A8A" stroke-width="0.6"/>
<text x="266.4" y="374.9" font-size="4.9" text-anchor="middle" fill="#333" stroke="#333" stroke-width="0.1">1.0</text>
<text x="218.7" y="380.6" font-size="4.5" text-anchor="middle" fill="#222" stroke="#222" stroke-width="0.1">High Risk Threshold</text>
<line x1="171.95" y1="387.3" x2="264.07" y2="387.3" stroke="#8A8A8A" stroke-width="0.75"/>
<line x1="171.95" y1="387.3" x2="171.95" y2="389.1" stroke="#8A8A8A" stroke-width="0.6"/>
<text x="171.95" y="395.4" font-size="4.9" text-anchor="middle" fill="#333" stroke="#333" stroke-width="0.1">1:100</text>
<line x1="190.08" y1="387.3" x2="190.08" y2="389.1" stroke="#8A8A8A" stroke-width="0.6"/>
<text x="190.08" y="395.4" font-size="4.9" text-anchor="middle" fill="#333" stroke="#333" stroke-width="0.1">1:4</text>
<line x1="206.77" y1="387.3" x2="206.77" y2="389.1" stroke="#8A8A8A" stroke-width="0.6"/>
<text x="206.77" y="395.4" font-size="4.9" text-anchor="middle" fill="#333" stroke="#333" stroke-width="0.1">3:5</text>
<line x1="227.11" y1="387.3" x2="227.11" y2="389.1" stroke="#8A8A8A" stroke-width="0.6"/>
<text x="227.11" y="395.4" font-size="4.9" text-anchor="middle" fill="#333" stroke="#333" stroke-width="0.1">10:7</text>
<line x1="247.32" y1="387.3" x2="247.32" y2="389.1" stroke="#8A8A8A" stroke-width="0.6"/>
<text x="247.32" y="395.4" font-size="4.9" text-anchor="middle" fill="#333" stroke="#333" stroke-width="0.1">4:1</text>
<line x1="264.07" y1="387.3" x2="264.07" y2="389.1" stroke="#8A8A8A" stroke-width="0.6"/>
<text x="264.07" y="395.4" font-size="4.9" text-anchor="middle" fill="#333" stroke="#333" stroke-width="0.1">40:1</text>
<text x="218.7" y="401.1" font-size="4.5" text-anchor="middle" fill="#222" stroke="#222" stroke-width="0.1">Cost Benefit Ratio</text>
<rect x="222.8" y="287.7" width="45" height="21.7" stroke="#8A8A8A" stroke-width="0.6" fill="#fff"/>
<line x1="227.2" y1="293.5" x2="235" y2="293.5" stroke="#F3C24C" stroke-width="1.15"/>
<line x1="227.2" y1="298.8" x2="235" y2="298.8" stroke="#C8C8C8" stroke-width="0.8"/>
<line x1="227.2" y1="304.2" x2="235" y2="304.2" stroke="#8A8A8A" stroke-width="0.8"/>
<text x="239" y="295.1" font-size="4.5" fill="#222" stroke="#222" stroke-width="0.1">Training DCA</text>
<text x="239" y="300.4" font-size="4.5" fill="#222" stroke="#222" stroke-width="0.1">All</text>
<text x="239" y="305.8" font-size="4.5" fill="#222" stroke="#222" stroke-width="0.1">None</text>
<line x1="462.18" y1="289" x2="462.18" y2="361" stroke="#EFEFEF" stroke-width="0.4"/>
<line x1="480.86" y1="289" x2="480.86" y2="361" stroke="#EFEFEF" stroke-width="0.4"/>
<line x1="499.54" y1="289" x2="499.54" y2="361" stroke="#EFEFEF" stroke-width="0.4"/>
<line x1="518.22" y1="289" x2="518.22" y2="361" stroke="#EFEFEF" stroke-width="0.4"/>
<line x1="441.63" y1="344.54" x2="538.77" y2="344.54" stroke="#EFEFEF" stroke-width="0.4"/>
<line x1="441.63" y1="331.18" x2="538.77" y2="331.18" stroke="#EFEFEF" stroke-width="0.4"/>
<line x1="441.63" y1="317.82" x2="538.77" y2="317.82" stroke="#EFEFEF" stroke-width="0.4"/>
<line x1="441.63" y1="304.46" x2="538.77" y2="304.46" stroke="#EFEFEF" stroke-width="0.4"/>
<line x1="441.63" y1="291.1" x2="538.77" y2="291.1" stroke="#EFEFEF" stroke-width="0.4"/>
<polyline points="443.5,291.1 444.43,291.77 445.37,292.46 446.3,293.17 447.24,293.88 448.17,294.62 449.1,295.36 450.04,296.13 450.97,296.91 451.91,297.71 452.84,298.52 453.77,299.36 454.71,300.21 455.64,301.08 456.58,301.97 457.51,302.89 458.44,303.82 459.38,304.78 460.31,305.76 461.25,306.77 462.18,307.8 463.11,308.86 464.05,309.94 464.98,311.05 465.92,312.19 466.85,313.37 467.78,314.57 468.72,315.81 469.65,317.08 470.59,318.38 471.52,319.73 472.45,321.11 473.39,322.54 474.32,324 475.26,325.51 476.19,327.07 477.12,328.68 478.06,330.33 478.99,332.04 479.93,333.81 480.86,335.63 481.79,337.52 482.73,339.47 483.66,341.49 484.6,343.59 485.53,345.75 486.46,348 487.4,350.34 488.33,352.76 489.27,355.28 490.2,357.9 491.13,360.63 492.07,363.11" fill="none" stroke="#C8C8C8" stroke-width="0.65" stroke-linejoin="round"/>
<line x1="443.5" y1="357.9" x2="534.56" y2="357.9" stroke="#8A8A8A" stroke-width="0.95"/>
<polyline points="443.35,291.11 449.45,296.07 455.18,301.23 459.95,306.38 464.73,311.73 469.5,316.5 472.36,322.23 475.23,327 477.14,329.86 480,331.2 483.82,332.16 488.59,332.73 492.41,331.77 495.27,330.82 497.18,331.39 500.05,334.26 502.91,337.5 505.77,343.23 508.64,348 510.55,350.86 514.37,355.26 516.27,357.55 519.14,356.21 522,355.26 524.87,356.02 527.73,357.55 530.59,358.5 536.32,358.5" fill="none" stroke="#4A8ED6" stroke-width="1.05" stroke-linejoin="round"/>
<line x1="439.8" y1="357.9" x2="439.8" y2="291.1" stroke="#8A8A8A" stroke-width="0.75"/>
<line x1="439.8" y1="357.9" x2="438" y2="357.9" stroke="#8A8A8A" stroke-width="0.6"/>
<text x="433.5" y="357.9" font-size="4.9" text-anchor="middle" transform="rotate(-90 433.5 357.9)" fill="#333" stroke="#333" stroke-width="0.1">0.0</text>
<line x1="439.8" y1="344.54" x2="438" y2="344.54" stroke="#8A8A8A" stroke-width="0.6"/>
<text x="433.5" y="344.54" font-size="4.9" text-anchor="middle" transform="rotate(-90 433.5 344.54)" fill="#333" stroke="#333" stroke-width="0.1">0.2</text>
<line x1="439.8" y1="331.18" x2="438" y2="331.18" stroke="#8A8A8A" stroke-width="0.6"/>
<text x="433.5" y="331.18" font-size="4.9" text-anchor="middle" transform="rotate(-90 433.5 331.18)" fill="#333" stroke="#333" stroke-width="0.1">0.4</text>
<line x1="439.8" y1="317.82" x2="438" y2="317.82" stroke="#8A8A8A" stroke-width="0.6"/>
<text x="433.5" y="317.82" font-size="4.9" text-anchor="middle" transform="rotate(-90 433.5 317.82)" fill="#333" stroke="#333" stroke-width="0.1">0.6</text>
<line x1="439.8" y1="304.46" x2="438" y2="304.46" stroke="#8A8A8A" stroke-width="0.6"/>
<text x="433.5" y="304.46" font-size="4.9" text-anchor="middle" transform="rotate(-90 433.5 304.46)" fill="#333" stroke="#333" stroke-width="0.1">0.8</text>
<line x1="439.8" y1="291.1" x2="438" y2="291.1" stroke="#8A8A8A" stroke-width="0.6"/>
<text x="433.5" y="291.1" font-size="4.9" text-anchor="middle" transform="rotate(-90 433.5 291.1)" fill="#333" stroke="#333" stroke-width="0.1">1.0</text>
<text x="423.1" y="326.5" font-size="4.5" text-anchor="middle" transform="rotate(-90 423.1 326.5)" fill="#222" stroke="#222" stroke-width="0.1">Standardized Net Benefit</text>
<line x1="443.5" y1="364.8" x2="536.9" y2="364.8" stroke="#8A8A8A" stroke-width="0.75"/>
<line x1="443.5" y1="364.8" x2="443.5" y2="366.6" stroke="#8A8A8A" stroke-width="0.6"/>
<text x="443.5" y="374.9" font-size="4.9" text-anchor="middle" fill="#333" stroke="#333" stroke-width="0.1">0.0</text>
<line x1="462.18" y1="364.8" x2="462.18" y2="366.6" stroke="#8A8A8A" stroke-width="0.6"/>
<text x="462.18" y="374.9" font-size="4.9" text-anchor="middle" fill="#333" stroke="#333" stroke-width="0.1">0.2</text>
<line x1="480.86" y1="364.8" x2="480.86" y2="366.6" stroke="#8A8A8A" stroke-width="0.6"/>
<text x="480.86" y="374.9" font-size="4.9" text-anchor="middle" fill="#333" stroke="#333" stroke-width="0.1">0.4</text>
<line x1="499.54" y1="364.8" x2="499.54" y2="366.6" stroke="#8A8A8A" stroke-width="0.6"/>
<text x="499.54" y="374.9" font-size="4.9" text-anchor="middle" fill="#333" stroke="#333" stroke-width="0.1">0.6</text>
<line x1="518.22" y1="364.8" x2="518.22" y2="366.6" stroke="#8A8A8A" stroke-width="0.6"/>
<text x="518.22" y="374.9" font-size="4.9" text-anchor="middle" fill="#333" stroke="#333" stroke-width="0.1">0.8</text>
<line x1="536.9" y1="364.8" x2="536.9" y2="366.6" stroke="#8A8A8A" stroke-width="0.6"/>
<text x="536.9" y="374.9" font-size="4.9" text-anchor="middle" fill="#333" stroke="#333" stroke-width="0.1">1.0</text>
<text x="490.2" y="380.6" font-size="4.5" text-anchor="middle" fill="#222" stroke="#222" stroke-width="0.1">High Risk Threshold</text>
<line x1="444.43" y1="387.3" x2="534.62" y2="387.3" stroke="#8A8A8A" stroke-width="0.75"/>
<line x1="444.43" y1="387.3" x2="444.43" y2="389.1" stroke="#8A8A8A" stroke-width="0.6"/>
<text x="444.43" y="395.4" font-size="4.9" text-anchor="middle" fill="#333" stroke="#333" stroke-width="0.1">1:100</text>
<line x1="462.18" y1="387.3" x2="462.18" y2="389.1" stroke="#8A8A8A" stroke-width="0.6"/>
<text x="462.18" y="395.4" font-size="4.9" text-anchor="middle" fill="#333" stroke="#333" stroke-width="0.1">1:4</text>
<line x1="478.52" y1="387.3" x2="478.52" y2="389.1" stroke="#8A8A8A" stroke-width="0.6"/>
<text x="478.52" y="395.4" font-size="4.9" text-anchor="middle" fill="#333" stroke="#333" stroke-width="0.1">3:5</text>
<line x1="498.44" y1="387.3" x2="498.44" y2="389.1" stroke="#8A8A8A" stroke-width="0.6"/>
<text x="498.44" y="395.4" font-size="4.9" text-anchor="middle" fill="#333" stroke="#333" stroke-width="0.1">10:7</text>
<line x1="518.22" y1="387.3" x2="518.22" y2="389.1" stroke="#8A8A8A" stroke-width="0.6"/>
<text x="518.22" y="395.4" font-size="4.9" text-anchor="middle" fill="#333" stroke="#333" stroke-width="0.1">4:1</text>
<line x1="534.62" y1="387.3" x2="534.62" y2="389.1" stroke="#8A8A8A" stroke-width="0.6"/>
<text x="534.62" y="395.4" font-size="4.9" text-anchor="middle" fill="#333" stroke="#333" stroke-width="0.1">40:1</text>
<text x="490.2" y="401.1" font-size="4.5" text-anchor="middle" fill="#222" stroke="#222" stroke-width="0.1">Cost Benefit Ratio</text>
<rect x="491.8" y="288.4" width="48.3" height="21.4" stroke="#8A8A8A" stroke-width="0.6" fill="#fff"/>
<line x1="496.2" y1="293.5" x2="504" y2="293.5" stroke="#4A8ED6" stroke-width="1.15"/>
<line x1="496.2" y1="298.8" x2="504" y2="298.8" stroke="#C8C8C8" stroke-width="0.8"/>
<line x1="496.2" y1="304.2" x2="504" y2="304.2" stroke="#8A8A8A" stroke-width="0.8"/>
<text x="508" y="295.1" font-size="4.5" fill="#222" stroke="#222" stroke-width="0.1">Validation DCA</text>
<text x="508" y="300.4" font-size="4.5" fill="#222" stroke="#222" stroke-width="0.1">All</text>
<text x="508" y="305.8" font-size="4.5" fill="#222" stroke="#222" stroke-width="0.1">None</text>
<text x="17.1" y="418.8" font-size="11" text-anchor="middle" fill="#111" stroke="#111" stroke-width="0.42">E</text>
<line x1="40.7" y1="430.1" x2="40.7" y2="543.6" stroke="#333" stroke-width="0.7"/>
<line x1="40.35" y1="543.3" x2="148.7" y2="543.3" stroke="#333" stroke-width="0.7"/>
<line x1="38.9" y1="533.4" x2="40.7" y2="533.4" stroke="#333" stroke-width="0.6"/>
<text x="38.1" y="535.4" font-size="5.6" text-anchor="end" fill="#333" stroke="#333" stroke-width="0.1">0.00</text>
<line x1="38.9" y1="510.05" x2="40.7" y2="510.05" stroke="#333" stroke-width="0.6"/>
<text x="38.1" y="512.05" font-size="5.6" text-anchor="end" fill="#333" stroke="#333" stroke-width="0.1">0.25</text>
<line x1="38.9" y1="486.7" x2="40.7" y2="486.7" stroke="#333" stroke-width="0.6"/>
<text x="38.1" y="488.7" font-size="5.6" text-anchor="end" fill="#333" stroke="#333" stroke-width="0.1">0.50</text>
<line x1="38.9" y1="463.35" x2="40.7" y2="463.35" stroke="#333" stroke-width="0.6"/>
<text x="38.1" y="465.35" font-size="5.6" text-anchor="end" fill="#333" stroke="#333" stroke-width="0.1">0.75</text>
<line x1="38.9" y1="440" x2="40.7" y2="440" stroke="#333" stroke-width="0.6"/>
<text x="38.1" y="442" font-size="5.6" text-anchor="end" fill="#333" stroke="#333" stroke-width="0.1">1.00</text>
<line x1="70.4" y1="543.3" x2="70.4" y2="545" stroke="#333" stroke-width="0.6"/>
<text x="70.4" y="550.1" font-size="5.9" text-anchor="middle" fill="#222" stroke="#222" stroke-width="0.1">low</text>
<line x1="118.8" y1="543.3" x2="118.8" y2="545" stroke="#333" stroke-width="0.6"/>
<text x="118.8" y="550.1" font-size="5.9" text-anchor="middle" fill="#222" stroke="#222" stroke-width="0.1">high</text>
<text x="91" y="557" font-size="5.8" text-anchor="middle" fill="#222" stroke="#222" stroke-width="0.1">risk</text>
<text x="24.7" y="486.8" font-size="5.5" text-anchor="middle" transform="rotate(-90 24.7 486.8)" fill="#222" stroke="#222" stroke-width="0.1">Pathomics score</text>
<line x1="70.4" y1="467.09" x2="70.4" y2="487.63" stroke="#6FA3E0" stroke-width="0.9"/>
<line x1="70.4" y1="509.12" x2="70.4" y2="520.32" stroke="#6FA3E0" stroke-width="0.9"/>
<rect x="52.9" y="487.63" width="35" height="21.48" stroke="#6FA3E0" stroke-width="0.7" fill="none"/>
<line x1="52.9" y1="497.91" x2="87.9" y2="497.91" stroke="#6FA3E0" stroke-width="1.0"/>
<g fill="#2F7FD0" fill-opacity="0.85"><circle cx="79.31" cy="497.09" r="0.62"/><circle cx="72.24" cy="498.21" r="0.62"/><circle cx="73.13" cy="498.12" r="0.62"/><circle cx="66.27" cy="485.7" r="0.62"/><circle cx="74.46" cy="491.72" r="0.62"/><circle cx="80.16" cy="488.02" r="0.62"/><circle cx="63.21" cy="513.42" r="0.62"/><circle cx="61.15" cy="497.77" r="0.62"/><circle cx="60.53" cy="503.92" r="0.62"/><circle cx="77.59" cy="499.65" r="0.62"/><circle cx="70.4" cy="513.15" r="0.62"/><circle cx="65.74" cy="515.2" r="0.62"/><circle cx="77.54" cy="467.17" r="0.62"/><circle cx="64.72" cy="516.79" r="0.62"/><circle cx="75.99" cy="507.61" r="0.62"/><circle cx="68.02" cy="490.93" r="0.62"/><circle cx="59.91" cy="470.22" r="0.62"/><circle cx="69.77" cy="489.56" r="0.62"/><circle cx="61.43" cy="479.47" r="0.62"/><circle cx="65.57" cy="511.6" r="0.62"/><circle cx="80.15" cy="501.97" r="0.62"/><circle cx="65.07" cy="485.21" r="0.62"/><circle cx="76.64" cy="507.83" r="0.62"/><circle cx="69.3" cy="497.1" r="0.62"/><circle cx="62.65" cy="493.39" r="0.62"/><circle cx="68.74" cy="519.02" r="0.62"/><circle cx="80.29" cy="503.32" r="0.62"/><circle cx="78.48" cy="481.38" r="0.62"/><circle cx="77.84" cy="500.65" r="0.62"/><circle cx="80.68" cy="519.2" r="0.62"/><circle cx="76.13" cy="503.57" r="0.62"/><circle cx="61.44" cy="502.75" r="0.62"/><circle cx="65" cy="496.6" r="0.62"/><circle cx="69.42" cy="516.16" r="0.62"/><circle cx="71.97" cy="477.69" r="0.62"/><circle cx="63.14" cy="483.88" r="0.62"/><circle cx="65.14" cy="470.83" r="0.62"/><circle cx="79.65" cy="493.23" r="0.62"/><circle cx="78.43" cy="488.71" r="0.62"/><circle cx="62.08" cy="515.6" r="0.62"/><circle cx="64.91" cy="488.44" r="0.62"/><circle cx="77.2" cy="517.44" r="0.62"/><circle cx="63.58" cy="517.04" r="0.62"/><circle cx="64.7" cy="519.55" r="0.62"/><circle cx="72.8" cy="510.77" r="0.62"/><circle cx="64.18" cy="489.41" r="0.62"/><circle cx="69.26" cy="503.33" r="0.62"/><circle cx="67.64" cy="505.33" r="0.62"/><circle cx="67.51" cy="518.85" r="0.62"/><circle cx="73.7" cy="467.49" r="0.62"/><circle cx="62.85" cy="513.77" r="0.62"/><circle cx="79.01" cy="508.73" r="0.62"/><circle cx="60.35" cy="509.53" r="0.62"/><circle cx="75.24" cy="514.92" r="0.62"/><circle cx="61.48" cy="487.65" r="0.62"/><circle cx="78.8" cy="512.06" r="0.62"/><circle cx="76.56" cy="512.44" r="0.62"/><circle cx="74.29" cy="480.4" r="0.62"/><circle cx="68.66" cy="469.73" r="0.62"/><circle cx="71.93" cy="469.89" r="0.62"/><circle cx="72.14" cy="516.04" r="0.62"/><circle cx="73.33" cy="519.43" r="0.62"/><circle cx="75.19" cy="469.56" r="0.62"/><circle cx="72.1" cy="493.33" r="0.62"/><circle cx="61.66" cy="491.11" r="0.62"/><circle cx="72.53" cy="487.02" r="0.62"/><circle cx="74.57" cy="504.17" r="0.62"/><circle cx="79.23" cy="495.92" r="0.62"/><circle cx="66.22" cy="508.87" r="0.62"/><circle cx="63.46" cy="518.05" r="0.62"/><circle cx="69.18" cy="474.07" r="0.62"/><circle cx="73.88" cy="480.92" r="0.62"/><circle cx="76.83" cy="499.86" r="0.62"/><circle cx="67.97" cy="469.55" r="0.62"/><circle cx="62.76" cy="516.78" r="0.62"/><circle cx="77.72" cy="491.13" r="0.62"/><circle cx="65.71" cy="509.68" r="0.62"/><circle cx="65.68" cy="499.44" r="0.62"/><circle cx="73.04" cy="500.22" r="0.62"/><circle cx="77.52" cy="502.34" r="0.62"/><circle cx="61.47" cy="478.34" r="0.62"/><circle cx="60.77" cy="490.37" r="0.62"/><circle cx="66.39" cy="513.93" r="0.62"/><circle cx="62.75" cy="487.24" r="0.62"/><circle cx="77.32" cy="508.58" r="0.62"/><circle cx="60.89" cy="506.09" r="0.62"/><circle cx="73.13" cy="515.32" r="0.62"/><circle cx="80.03" cy="511.27" r="0.62"/><circle cx="69.88" cy="518.09" r="0.62"/><circle cx="69.82" cy="508.88" r="0.62"/><circle cx="65.62" cy="518.32" r="0.62"/><circle cx="70.83" cy="494.14" r="0.62"/><circle cx="68.16" cy="511.85" r="0.62"/><circle cx="61.73" cy="469.01" r="0.62"/><circle cx="62.63" cy="472.79" r="0.62"/><circle cx="79.01" cy="495.68" r="0.62"/><circle cx="78.37" cy="496.9" r="0.62"/><circle cx="69.64" cy="468.23" r="0.62"/><circle cx="75.06" cy="518.03" r="0.62"/><circle cx="74.97" cy="474.45" r="0.62"/><circle cx="80.49" cy="489.78" r="0.62"/><circle cx="76.51" cy="476.6" r="0.62"/><circle cx="77.87" cy="489.57" r="0.62"/><circle cx="69.16" cy="507.34" r="0.62"/><circle cx="70.14" cy="511.71" r="0.62"/></g>
<line x1="118.8" y1="448.41" x2="118.8" y2="463.35" stroke="#F7C660" stroke-width="0.9"/>
<line x1="118.8" y1="488.57" x2="118.8" y2="513.79" stroke="#F7C660" stroke-width="0.9"/>
<rect x="101.3" y="463.35" width="35" height="25.22" stroke="#F7C660" stroke-width="0.7" fill="none"/>
<line x1="101.3" y1="475.49" x2="136.3" y2="475.49" stroke="#F7C660" stroke-width="1.0"/>
<g fill="#F5B82E" fill-opacity="0.85"><circle cx="109.65" cy="468.16" r="0.62"/><circle cx="115.34" cy="460.77" r="0.62"/><circle cx="111.42" cy="461.25" r="0.62"/><circle cx="125.94" cy="495.54" r="0.62"/><circle cx="118.64" cy="489.94" r="0.62"/><circle cx="112.95" cy="462.06" r="0.62"/><circle cx="123.61" cy="506.47" r="0.62"/><circle cx="126.02" cy="500.6" r="0.62"/><circle cx="116.31" cy="505.93" r="0.62"/><circle cx="112.67" cy="449.89" r="0.62"/><circle cx="119.31" cy="448.88" r="0.62"/><circle cx="119.55" cy="508.72" r="0.62"/><circle cx="108.88" cy="498.52" r="0.62"/><circle cx="116.71" cy="455.64" r="0.62"/><circle cx="118.61" cy="454.94" r="0.62"/><circle cx="119.61" cy="512.12" r="0.62"/><circle cx="127.69" cy="464.44" r="0.62"/><circle cx="110.97" cy="476.64" r="0.62"/><circle cx="127.21" cy="468" r="0.62"/><circle cx="112.32" cy="480.57" r="0.62"/><circle cx="111.02" cy="490.45" r="0.62"/><circle cx="112.38" cy="463.01" r="0.62"/><circle cx="115.06" cy="471.24" r="0.62"/><circle cx="110.5" cy="472.94" r="0.62"/><circle cx="119.02" cy="510.69" r="0.62"/><circle cx="119.44" cy="483.58" r="0.62"/><circle cx="116.98" cy="479.09" r="0.62"/><circle cx="112.59" cy="509.76" r="0.62"/><circle cx="119.42" cy="497.69" r="0.62"/><circle cx="126.29" cy="454.21" r="0.62"/><circle cx="125.32" cy="469.89" r="0.62"/><circle cx="114.91" cy="458.63" r="0.62"/><circle cx="129.27" cy="460.09" r="0.62"/><circle cx="113.33" cy="461.35" r="0.62"/><circle cx="110.34" cy="507.24" r="0.62"/><circle cx="124.89" cy="457.05" r="0.62"/><circle cx="122.69" cy="478.41" r="0.62"/><circle cx="122.63" cy="483.5" r="0.62"/><circle cx="110.72" cy="448.88" r="0.62"/><circle cx="118.86" cy="494.67" r="0.62"/><circle cx="109.78" cy="509.02" r="0.62"/><circle cx="119.89" cy="487.62" r="0.62"/><circle cx="111.38" cy="499.44" r="0.62"/><circle cx="125.94" cy="483.43" r="0.62"/><circle cx="110.3" cy="449.5" r="0.62"/><circle cx="118" cy="464.57" r="0.62"/><circle cx="118.11" cy="458.47" r="0.62"/><circle cx="120.92" cy="502.94" r="0.62"/><circle cx="126.03" cy="470.89" r="0.62"/><circle cx="123.83" cy="477.12" r="0.62"/><circle cx="111.77" cy="483.65" r="0.62"/><circle cx="127.06" cy="513.4" r="0.62"/><circle cx="126.38" cy="452.82" r="0.62"/><circle cx="120.89" cy="503.59" r="0.62"/><circle cx="125.2" cy="489" r="0.62"/><circle cx="123.93" cy="465.59" r="0.62"/><circle cx="116.82" cy="451.18" r="0.62"/><circle cx="122.89" cy="450.2" r="0.62"/><circle cx="116.82" cy="451.91" r="0.62"/><circle cx="115.48" cy="512.01" r="0.62"/><circle cx="115.77" cy="488.3" r="0.62"/><circle cx="113.17" cy="498.05" r="0.62"/><circle cx="115.39" cy="453.4" r="0.62"/><circle cx="119.49" cy="499.42" r="0.62"/><circle cx="121.79" cy="463.35" r="0.62"/><circle cx="128.88" cy="494.58" r="0.62"/><circle cx="123.81" cy="473.05" r="0.62"/><circle cx="109.36" cy="478.44" r="0.62"/><circle cx="110.37" cy="479.09" r="0.62"/><circle cx="119.85" cy="465.73" r="0.62"/><circle cx="120.23" cy="489.4" r="0.62"/><circle cx="125.3" cy="453.82" r="0.62"/><circle cx="124.24" cy="473.5" r="0.62"/><circle cx="111.66" cy="465.11" r="0.62"/><circle cx="118.71" cy="484.3" r="0.62"/><circle cx="128.15" cy="512.31" r="0.62"/><circle cx="120.85" cy="475.28" r="0.62"/><circle cx="122.06" cy="481.36" r="0.62"/><circle cx="123.35" cy="506.64" r="0.62"/><circle cx="113.45" cy="488.21" r="0.62"/><circle cx="124.15" cy="484.62" r="0.62"/><circle cx="124.02" cy="465.93" r="0.62"/><circle cx="128.13" cy="463.63" r="0.62"/><circle cx="117.32" cy="465.73" r="0.62"/><circle cx="113.42" cy="464.03" r="0.62"/><circle cx="123.48" cy="490.15" r="0.62"/><circle cx="125.45" cy="463.88" r="0.62"/><circle cx="121.41" cy="510.88" r="0.62"/><circle cx="109.39" cy="483.43" r="0.62"/><circle cx="117.6" cy="510.65" r="0.62"/><circle cx="113.8" cy="502.3" r="0.62"/><circle cx="124.64" cy="503.21" r="0.62"/><circle cx="128.31" cy="488.63" r="0.62"/><circle cx="110.69" cy="507.77" r="0.62"/><circle cx="121.42" cy="451.63" r="0.62"/><circle cx="122.69" cy="481.72" r="0.62"/><circle cx="121.6" cy="498.87" r="0.62"/><circle cx="113.53" cy="460.51" r="0.62"/><circle cx="126.75" cy="449.67" r="0.62"/><circle cx="113.99" cy="487.04" r="0.62"/><circle cx="110.45" cy="472.85" r="0.62"/><circle cx="110.12" cy="511.96" r="0.62"/><circle cx="121.55" cy="499.9" r="0.62"/><circle cx="112.72" cy="476.5" r="0.62"/><circle cx="125.91" cy="469.78" r="0.62"/></g>
<line x1="70.4" y1="445.7" x2="70.4" y2="444.1" stroke="#666" stroke-width="0.6"/>
<line x1="70.4" y1="444.1" x2="118.8" y2="444.1" stroke="#666" stroke-width="0.6"/>
<line x1="118.8" y1="444.1" x2="118.8" y2="445.7" stroke="#666" stroke-width="0.6"/>
<text x="96.9" y="442.8" font-size="5.4" text-anchor="middle" fill="#222" stroke="#222" stroke-width="0.08">2.6 × 10<tspan font-size="3.4" dy="-2.1">−10</tspan></text>
<line x1="173.8" y1="430.1" x2="173.8" y2="543.6" stroke="#333" stroke-width="0.7"/>
<line x1="173.45" y1="543.3" x2="281.8" y2="543.3" stroke="#333" stroke-width="0.7"/>
<line x1="172" y1="533.4" x2="173.8" y2="533.4" stroke="#333" stroke-width="0.6"/>
<text x="171.2" y="535.4" font-size="5.6" text-anchor="end" fill="#333" stroke="#333" stroke-width="0.1">0.00</text>
<line x1="172" y1="510.05" x2="173.8" y2="510.05" stroke="#333" stroke-width="0.6"/>
<text x="171.2" y="512.05" font-size="5.6" text-anchor="end" fill="#333" stroke="#333" stroke-width="0.1">0.25</text>
<line x1="172" y1="486.7" x2="173.8" y2="486.7" stroke="#333" stroke-width="0.6"/>
<text x="171.2" y="488.7" font-size="5.6" text-anchor="end" fill="#333" stroke="#333" stroke-width="0.1">0.50</text>
<line x1="172" y1="463.35" x2="173.8" y2="463.35" stroke="#333" stroke-width="0.6"/>
<text x="171.2" y="465.35" font-size="5.6" text-anchor="end" fill="#333" stroke="#333" stroke-width="0.1">0.75</text>
<line x1="172" y1="440" x2="173.8" y2="440" stroke="#333" stroke-width="0.6"/>
<text x="171.2" y="442" font-size="5.6" text-anchor="end" fill="#333" stroke="#333" stroke-width="0.1">1.00</text>
<line x1="203.6" y1="543.3" x2="203.6" y2="545" stroke="#333" stroke-width="0.6"/>
<text x="203.6" y="550.1" font-size="5.9" text-anchor="middle" fill="#222" stroke="#222" stroke-width="0.1">low</text>
<line x1="252" y1="543.3" x2="252" y2="545" stroke="#333" stroke-width="0.6"/>
<text x="252" y="550.1" font-size="5.9" text-anchor="middle" fill="#222" stroke="#222" stroke-width="0.1">high</text>
<text x="225.2" y="557" font-size="5.8" text-anchor="middle" fill="#222" stroke="#222" stroke-width="0.1">risk</text>
<text x="157.8" y="486.8" font-size="5.5" text-anchor="middle" transform="rotate(-90 157.8 486.8)" fill="#222" stroke="#222" stroke-width="0.1">Pathomics score</text>
<line x1="203.6" y1="457.75" x2="203.6" y2="484.83" stroke="#6FA3E0" stroke-width="0.9"/>
<line x1="203.6" y1="506.31" x2="203.6" y2="521.26" stroke="#6FA3E0" stroke-width="0.9"/>
<rect x="186.1" y="484.83" width="35" height="21.48" stroke="#6FA3E0" stroke-width="0.7" fill="none"/>
<line x1="186.1" y1="494.17" x2="221.1" y2="494.17" stroke="#6FA3E0" stroke-width="1.0"/>
<g fill="#2F7FD0" fill-opacity="0.85"><circle cx="207.09" cy="492.19" r="0.62"/><circle cx="200.97" cy="506.08" r="0.62"/><circle cx="207.6" cy="488.91" r="0.62"/><circle cx="206.99" cy="512.92" r="0.62"/><circle cx="196.51" cy="496.86" r="0.62"/><circle cx="210.3" cy="483.24" r="0.62"/><circle cx="200.18" cy="491.56" r="0.62"/><circle cx="193.49" cy="488.22" r="0.62"/><circle cx="203.79" cy="486.66" r="0.62"/><circle cx="212.98" cy="485.11" r="0.62"/><circle cx="195.94" cy="497.22" r="0.62"/><circle cx="196.53" cy="492.96" r="0.62"/><circle cx="196.7" cy="520.49" r="0.62"/><circle cx="201.9" cy="473.98" r="0.62"/><circle cx="201.18" cy="514.13" r="0.62"/><circle cx="213.42" cy="490.71" r="0.62"/><circle cx="200.58" cy="466.86" r="0.62"/><circle cx="207.25" cy="491.49" r="0.62"/><circle cx="200.73" cy="501.27" r="0.62"/><circle cx="203.6" cy="509.15" r="0.62"/><circle cx="202.13" cy="488.64" r="0.62"/><circle cx="202.07" cy="517.94" r="0.62"/><circle cx="195.25" cy="489.73" r="0.62"/><circle cx="207.71" cy="518.6" r="0.62"/><circle cx="200.33" cy="500.37" r="0.62"/><circle cx="202.74" cy="520.48" r="0.62"/><circle cx="203.1" cy="500.26" r="0.62"/><circle cx="213.17" cy="471.8" r="0.62"/><circle cx="200.75" cy="486.46" r="0.62"/><circle cx="212.25" cy="490.23" r="0.62"/><circle cx="209.28" cy="500.55" r="0.62"/><circle cx="193.28" cy="501.12" r="0.62"/><circle cx="213.76" cy="493.01" r="0.62"/><circle cx="193.6" cy="471.19" r="0.62"/><circle cx="210.57" cy="489.4" r="0.62"/><circle cx="204.17" cy="517.83" r="0.62"/><circle cx="198.62" cy="492.84" r="0.62"/><circle cx="196.51" cy="460.61" r="0.62"/><circle cx="198.94" cy="487.56" r="0.62"/><circle cx="207.72" cy="470.88" r="0.62"/><circle cx="199.09" cy="518.06" r="0.62"/><circle cx="207.68" cy="491.64" r="0.62"/><circle cx="201.93" cy="487.27" r="0.62"/><circle cx="213.67" cy="496.96" r="0.62"/><circle cx="212.42" cy="511.92" r="0.62"/><circle cx="201.87" cy="464.23" r="0.62"/><circle cx="209.67" cy="507.79" r="0.62"/><circle cx="200.84" cy="516.07" r="0.62"/><circle cx="193.46" cy="512.84" r="0.62"/><circle cx="209.85" cy="507.75" r="0.62"/><circle cx="204.33" cy="460.17" r="0.62"/><circle cx="195.16" cy="474.55" r="0.62"/><circle cx="212.71" cy="499.61" r="0.62"/><circle cx="206.16" cy="513.16" r="0.62"/><circle cx="207.81" cy="494.84" r="0.62"/><circle cx="201.64" cy="501.03" r="0.62"/><circle cx="196.08" cy="491.59" r="0.62"/><circle cx="207.71" cy="499.6" r="0.62"/><circle cx="212.73" cy="466.97" r="0.62"/><circle cx="203.34" cy="505.68" r="0.62"/><circle cx="207.12" cy="502.46" r="0.62"/><circle cx="199.98" cy="501.19" r="0.62"/><circle cx="200.67" cy="484.62" r="0.62"/><circle cx="202.18" cy="501.99" r="0.62"/><circle cx="203.62" cy="486.58" r="0.62"/><circle cx="202.86" cy="518.83" r="0.62"/><circle cx="198.35" cy="508.66" r="0.62"/><circle cx="210.57" cy="487.95" r="0.62"/><circle cx="209.09" cy="494.76" r="0.62"/><circle cx="207.03" cy="491.85" r="0.62"/><circle cx="207.4" cy="469.83" r="0.62"/><circle cx="199.87" cy="490.58" r="0.62"/><circle cx="199.55" cy="498.56" r="0.62"/><circle cx="204.53" cy="501.47" r="0.62"/><circle cx="209.98" cy="505.33" r="0.62"/><circle cx="205.67" cy="486.2" r="0.62"/><circle cx="211.94" cy="487.56" r="0.62"/><circle cx="206.56" cy="503.61" r="0.62"/><circle cx="209.57" cy="468.35" r="0.62"/><circle cx="198.63" cy="493.04" r="0.62"/><circle cx="201.18" cy="498.16" r="0.62"/><circle cx="196.67" cy="488.97" r="0.62"/><circle cx="213.49" cy="500.84" r="0.62"/><circle cx="210.64" cy="520.47" r="0.62"/><circle cx="200.63" cy="462.59" r="0.62"/><circle cx="195.98" cy="516.69" r="0.62"/><circle cx="197.54" cy="462.27" r="0.62"/><circle cx="199.58" cy="484.17" r="0.62"/><circle cx="196.53" cy="502.64" r="0.62"/><circle cx="197.09" cy="516.83" r="0.62"/><circle cx="211.21" cy="499.61" r="0.62"/><circle cx="207.48" cy="519.73" r="0.62"/><circle cx="204.18" cy="514.56" r="0.62"/><circle cx="203.71" cy="509.29" r="0.62"/><circle cx="206.42" cy="514.27" r="0.62"/><circle cx="203.95" cy="497.4" r="0.62"/><circle cx="212.52" cy="517.1" r="0.62"/><circle cx="207.6" cy="487.94" r="0.62"/><circle cx="202.06" cy="466.35" r="0.62"/><circle cx="208.93" cy="493.26" r="0.62"/><circle cx="194.41" cy="481.33" r="0.62"/><circle cx="194.29" cy="504.5" r="0.62"/><circle cx="195.48" cy="500.95" r="0.62"/><circle cx="213.38" cy="512.06" r="0.62"/><circle cx="213.04" cy="464.61" r="0.62"/></g>
<line x1="252" y1="452.14" x2="252" y2="468.95" stroke="#F7C660" stroke-width="0.9"/>
<line x1="252" y1="496.04" x2="252" y2="517.52" stroke="#F7C660" stroke-width="0.9"/>
<rect x="234.5" y="468.95" width="35" height="27.09" stroke="#F7C660" stroke-width="0.7" fill="none"/>
<line x1="234.5" y1="477.36" x2="269.5" y2="477.36" stroke="#F7C660" stroke-width="1.0"/>
<g fill="#F5B82E" fill-opacity="0.85"><circle cx="260.95" cy="489.87" r="0.62"/><circle cx="257.39" cy="490.44" r="0.62"/><circle cx="248.13" cy="481.33" r="0.62"/><circle cx="254.24" cy="493.68" r="0.62"/><circle cx="257.57" cy="452.37" r="0.62"/><circle cx="247.76" cy="462.86" r="0.62"/><circle cx="255.55" cy="458.86" r="0.62"/><circle cx="251.63" cy="489.85" r="0.62"/><circle cx="257.4" cy="499.78" r="0.62"/><circle cx="259.61" cy="485.7" r="0.62"/><circle cx="245.59" cy="460.8" r="0.62"/><circle cx="249.09" cy="506.01" r="0.62"/><circle cx="254.36" cy="485.6" r="0.62"/><circle cx="261.5" cy="481.39" r="0.62"/><circle cx="250.29" cy="512.11" r="0.62"/><circle cx="254.77" cy="476.08" r="0.62"/><circle cx="254.01" cy="481.2" r="0.62"/><circle cx="248.01" cy="509.39" r="0.62"/><circle cx="248.44" cy="469.02" r="0.62"/><circle cx="245.13" cy="507.64" r="0.62"/><circle cx="248.27" cy="490.49" r="0.62"/><circle cx="261.2" cy="486.56" r="0.62"/><circle cx="255.31" cy="487.04" r="0.62"/><circle cx="255.1" cy="482.07" r="0.62"/><circle cx="243.62" cy="477.85" r="0.62"/><circle cx="262.28" cy="474.11" r="0.62"/><circle cx="250.7" cy="513.84" r="0.62"/><circle cx="246.4" cy="473.26" r="0.62"/><circle cx="254.88" cy="478.76" r="0.62"/><circle cx="261.64" cy="507.24" r="0.62"/><circle cx="249.73" cy="470.66" r="0.62"/><circle cx="256.52" cy="486.31" r="0.62"/><circle cx="252.55" cy="464.93" r="0.62"/><circle cx="255.41" cy="506.75" r="0.62"/><circle cx="248.96" cy="502.18" r="0.62"/><circle cx="260.2" cy="495.37" r="0.62"/><circle cx="261.81" cy="462.39" r="0.62"/><circle cx="259.07" cy="466.41" r="0.62"/><circle cx="246.94" cy="487.53" r="0.62"/><circle cx="242.56" cy="494.64" r="0.62"/><circle cx="244.83" cy="487.72" r="0.62"/><circle cx="249.47" cy="473.51" r="0.62"/><circle cx="261.09" cy="479.75" r="0.62"/><circle cx="259.57" cy="489.86" r="0.62"/><circle cx="252.6" cy="453.29" r="0.62"/><circle cx="260.62" cy="490.93" r="0.62"/><circle cx="258.12" cy="459.68" r="0.62"/><circle cx="260.54" cy="481.58" r="0.62"/><circle cx="245.39" cy="479.32" r="0.62"/><circle cx="255.03" cy="454.84" r="0.62"/><circle cx="251.88" cy="495.46" r="0.62"/><circle cx="243.13" cy="485.2" r="0.62"/><circle cx="253.3" cy="460.18" r="0.62"/><circle cx="253.04" cy="453.88" r="0.62"/><circle cx="249.32" cy="499.33" r="0.62"/><circle cx="258.22" cy="468.54" r="0.62"/><circle cx="262.3" cy="504.15" r="0.62"/><circle cx="258.29" cy="485.01" r="0.62"/><circle cx="257.82" cy="506.26" r="0.62"/><circle cx="255.15" cy="498.85" r="0.62"/><circle cx="243.22" cy="488.27" r="0.62"/><circle cx="261.99" cy="494.89" r="0.62"/><circle cx="244.32" cy="479.71" r="0.62"/><circle cx="245.22" cy="460" r="0.62"/><circle cx="262.04" cy="454.49" r="0.62"/><circle cx="255.38" cy="485.14" r="0.62"/><circle cx="256.22" cy="480.62" r="0.62"/><circle cx="257.27" cy="455.1" r="0.62"/><circle cx="250.61" cy="475.58" r="0.62"/><circle cx="254.57" cy="495.48" r="0.62"/><circle cx="251.79" cy="493.49" r="0.62"/><circle cx="253.39" cy="487.23" r="0.62"/><circle cx="262.23" cy="506.14" r="0.62"/><circle cx="259.81" cy="463.93" r="0.62"/><circle cx="242.71" cy="470.66" r="0.62"/><circle cx="255.39" cy="470.8" r="0.62"/><circle cx="244.06" cy="513.13" r="0.62"/><circle cx="245.18" cy="467.85" r="0.62"/><circle cx="255.76" cy="473.85" r="0.62"/><circle cx="250.68" cy="455.85" r="0.62"/><circle cx="242.58" cy="463.63" r="0.62"/><circle cx="255.37" cy="454.14" r="0.62"/><circle cx="246.11" cy="490.52" r="0.62"/><circle cx="251.56" cy="493.5" r="0.62"/><circle cx="252.3" cy="453.28" r="0.62"/><circle cx="257.8" cy="507.47" r="0.62"/><circle cx="259.26" cy="496.37" r="0.62"/><circle cx="245.04" cy="504.84" r="0.62"/><circle cx="244.74" cy="483.91" r="0.62"/><circle cx="245.19" cy="484.9" r="0.62"/><circle cx="262.25" cy="510.48" r="0.62"/><circle cx="250.61" cy="506.42" r="0.62"/><circle cx="261.72" cy="490.61" r="0.62"/><circle cx="255.15" cy="458.02" r="0.62"/><circle cx="245.01" cy="481.37" r="0.62"/><circle cx="245.07" cy="480.14" r="0.62"/><circle cx="251.68" cy="476.26" r="0.62"/><circle cx="243.36" cy="466.28" r="0.62"/><circle cx="256.06" cy="458.72" r="0.62"/><circle cx="262.03" cy="514.33" r="0.62"/><circle cx="244.57" cy="471.41" r="0.62"/><circle cx="246.7" cy="481.17" r="0.62"/><circle cx="243.16" cy="464.57" r="0.62"/><circle cx="261.4" cy="488.68" r="0.62"/><circle cx="250.46" cy="457.7" r="0.62"/></g>
<line x1="203.6" y1="450.1" x2="203.6" y2="448.5" stroke="#666" stroke-width="0.6"/>
<line x1="203.6" y1="448.5" x2="252" y2="448.5" stroke="#666" stroke-width="0.6"/>
<line x1="252" y1="448.5" x2="252" y2="450.1" stroke="#666" stroke-width="0.6"/>
<text x="229.7" y="447.2" font-size="5.4" text-anchor="middle" fill="#222" stroke="#222" stroke-width="0.08">3.2 × 10<tspan font-size="3.4" dy="-2.1">−8</tspan></text>
<text x="310.2" y="418.8" font-size="11" text-anchor="middle" fill="#111" stroke="#111" stroke-width="0.42">F</text>
<text x="380.9" y="415.9" font-size="6.7" font-weight="bold" fill="#111">Survival curve (p=1.182 × 10<tspan font-size="4.2" dy="-2.7">−2</tspan><tspan dy="2.7">)</tspan></text>
<polyline points="359.1,431.2 359.92,431.2 359.92,432.03 360.54,432.03 360.54,432.67 361.59,432.67 361.59,433.73 362.29,433.73 362.29,434.45 362.86,434.45 362.86,435.03 363.92,435.03 363.92,435.97 365.71,435.97 365.71,437.45 367.34,437.45 367.34,438.79 368.91,438.79 368.91,440.62 369.71,440.62 369.71,441.55 370.96,441.55 370.96,443 371.83,443 371.83,443.83 372.56,443.83 372.56,444.32 373.19,444.32 373.19,444.75 373.97,444.75 373.97,445.28 375.78,445.28 375.78,446.53 377.45,446.53 377.45,447.78 379.08,447.78 379.08,449.01 380.71,449.01 380.71,450.23 381.47,450.23 381.47,450.66 382.39,450.66 382.39,451.12 383.77,451.12 383.77,451.81 385.29,451.81 385.29,452.57 387,452.57 387,453.52 388.74,453.52 388.74,454.7 389.34,454.7 389.34,455.11 390.69,455.11 390.69,456.19 392.13,456.19 392.13,458.19 393.33,458.19 393.33,459.86 394.07,459.86 394.07,460.77 395.22,460.77 395.22,461.68 395.83,461.68 395.83,462.15 397.65,462.15 397.65,463.43 399.37,463.43 399.37,463.99 400.63,463.99 400.63,464.4 401.54,464.4 401.54,464.71 403.32,464.71 403.32,465.4 404.62,465.4 404.62,465.9 406.36,465.9 406.36,466.57 408.06,466.57 408.06,467.19 409.26,467.19 409.26,467.62 410.34,467.62 410.34,468 411.67,468 411.67,468.48 412.77,468.48 412.77,468.81 413.48,468.81 413.48,468.96 414.39,468.96 414.39,469.15 416.04,469.15 416.04,469.92 416.58,469.92 416.58,470.65 417.12,470.65 417.12,471.38 418.5,471.38 418.5,473.55 419.38,473.55 419.38,475.06 420.62,475.06 420.62,477.04 421.78,477.04 421.78,477.9 422.75,477.9 422.75,478.63 424.66,478.63 424.66,479.63 425.42,479.63 425.42,479.96 426.49,479.96 426.49,480.44 427.25,480.44 427.25,480.78 428.64,480.78 428.64,481.55 429.51,481.55 429.51,482.1 430.5,482.1 430.5,482.72 432.05,482.72 432.05,483.56 432.99,483.56 432.99,483.77 434.27,483.77 434.27,484.05 436.04,484.05 436.04,484.49 436.67,484.49 436.67,484.8 437.23,484.8 437.23,485.09 438.04,485.09 438.04,485.5 439.62,485.5 439.62,486.31 440.98,486.31 440.98,487.14 441.79,487.14 441.79,487.68 442.75,487.68 442.75,488.3 443.48,488.3 443.48,488.78 444.62,488.78 444.62,490.25 445.16,490.25 445.16,491.34 446.63,491.34 446.63,494.22 448.4,494.22 448.4,498.6 450.24,498.6 450.24,500.06 493.23,500.06" fill="none" stroke="#F1BE45" stroke-width="0.95" stroke-linejoin="round" stroke-linejoin="miter"/>
<polyline points="359.1,431.2 360.04,431.2 360.04,431.93 360.74,431.93 360.74,432.46 362.15,432.46 362.15,433.55 362.73,433.55 362.73,433.99 363.98,433.99 363.98,434.95 364.98,434.95 364.98,435.42 365.54,435.42 365.54,435.45 366.75,435.45 366.75,435.51 367.28,435.51 367.28,435.54 368.38,435.54 368.38,435.6 368.96,435.6 368.96,435.63 369.57,435.63 369.57,435.67 370.65,435.67 370.65,436.07 372.32,436.07 372.32,437.01 372.97,437.01 372.97,437.39 373.77,437.39 373.77,437.84 375.15,437.84 375.15,438.62 376.99,438.62 376.99,439.58 378.29,439.58 378.29,440.25 379.34,440.25 379.34,440.79 381.22,440.79 381.22,441.7 381.76,441.7 381.76,441.89 383.47,441.89 383.47,442.51 384.36,442.51 384.36,442.83 385.05,442.83 385.05,443.07 385.7,443.07 385.7,443.3 386.62,443.3 386.62,443.63 388.27,443.63 388.27,444.19 389,444.19 389,444.44 390.31,444.44 390.31,444.88 391.71,444.88 391.71,445.35 392.72,445.35 392.72,445.53 393.99,445.53 393.99,445.73 394.55,445.73 394.55,445.82 395.12,445.82 395.12,445.91 395.89,445.91 395.89,446.04 397.34,446.04 397.34,446.27 398.44,446.27 398.44,447.54 399.36,447.54 399.36,449.58 400.68,449.58 400.68,451.41 401.81,451.41 401.81,451.98 402.72,451.98 402.72,452.44 404.34,452.44 404.34,453.26 405.82,453.26 405.82,454 406.64,454 406.64,454.41 407.95,454.41 407.95,455.05 409.18,455.05 409.18,455.66 410.91,455.66 410.91,456.52 412.44,456.52 412.44,457.27 413.33,457.27 413.33,457.71 415.21,457.71 415.21,458.68 415.86,458.68 415.86,459.1 416.94,459.1 416.94,459.81 418.5,459.81 418.5,460.83 419.2,460.83 419.2,461.26 420.37,461.26 420.37,461.54 420.91,461.54 420.91,461.67 422.35,461.67 422.35,462.02 423.92,462.02 423.92,462.3 425.22,462.3 425.22,462.43 426.95,462.43 426.95,462.6 427.88,462.6 427.88,463.38 429.36,463.38 429.36,465.47 430.69,465.47 430.69,466.69 432,466.69 432,467.43 441.28,467.43 441.28,469.39 442.69,469.39 442.69,471.41 444.59,471.41 444.59,472.42 454.76,472.42 454.76,476.91 460.74,476.91 460.74,482.4 484.33,482.4" fill="none" stroke="#2F7FD0" stroke-width="0.95" stroke-linejoin="round" stroke-linejoin="miter"/>
<path d="M414.77,467.65v3M420.53,473.56v3M437.7,483.59v3M387.53,452.02v3M422.35,476.4v3M444.57,487.28v3M446.24,489.84v3M379.09,447.51v3M422.34,476.4v3M419.12,472.05v3M408.55,465.69v3M451.57,498.56v3M410.86,466.5v3M403.15,463.21v3M449.47,497.1v3M420.84,475.54v3M389.76,453.61v3M390.5,453.61v3M407.87,465.07v3M366.65,435.95v3M418.24,469.88v3M430.16,480.6v3M401.37,462.9v3M440.45,484.81v3M448.02,492.72v3M413.41,467.31v3M425.09,478.13v3M372.66,442.82v3M366.96,435.95v3M452.86,498.56v3M388.2,452.02v3M381.59,449.16v3M445.11,488.75v3M431.46,481.22v3M373.21,443.25v3M391.66,454.69v3M384.32,450.31v3M387.11,452.02v3M362.35,432.95v3M410.53,466.5v3M390.05,453.61v3M398.4,461.93v3M378.99,446.28v3M371.99,442.33v3M364.82,434.47v3M460.03,498.56v3M471.98,498.56v3M475.96,498.56v3M491.9,498.56v3" stroke="#F1BE45" stroke-width="0.6" fill="none"/>
<path d="M442.89,469.91v3M431.23,465.19v3M413.78,456.21v3M373.27,435.89v3M375.6,437.12v3M372.88,435.51v3M391.18,443.38v3M367.11,434.01v3M387.36,442.13v3M380.62,439.29v3M379.68,439.29v3M422.53,460.52v3M404.31,450.94v3M405.77,451.76v3M395.04,444.32v3M411.86,455.02v3M434.74,465.93v3M390.39,443.38v3M368.28,434.04v3M406.49,452.5v3M397,444.54v3M434.31,465.93v3M372.07,434.57v3M442.88,469.91v3M363.13,432.49v3M412.16,455.02v3M402.99,450.94v3M391.07,443.38v3M444.39,469.91v3M427.02,461.1v3M376.93,437.12v3M407.77,452.91v3M418.67,459.33v3M364.87,433.45v3M369.89,434.17v3M417.69,458.31v3M429.57,463.97v3M404.77,451.76v3M400.99,449.91v3M408.88,453.55v3M385.98,441.8v3M443.23,469.91v3M451.16,470.92v3M406.55,452.5v3M363.66,432.49v3M398.67,446.04v3M436.41,465.93v3M391.96,443.85v3M371.57,434.57v3M378.98,438.75v3M427.91,461.88v3M419.58,459.76v3M388.36,442.69v3M419.72,459.76v3M432.47,465.93v3M451.57,470.92v3M439.03,465.93v3M402.1,450.48v3M437.01,465.93v3M447.78,470.92v3M442.53,467.89v3M431.52,465.19v3M416.29,457.6v3M409.3,454.16v3M440.8,465.93v3M419.86,459.76v3M428.8,461.88v3M382.94,440.39v3M370.33,434.17v3M386.89,442.13v3M461.36,480.9v3M464.01,480.9v3M468,480.9v3M478.62,480.9v3M482.6,480.9v3" stroke="#2F7FD0" stroke-width="0.6" fill="none"/>
<rect x="353.7" y="427.3" width="144.8" height="107.6" stroke="#555" stroke-width="0.7" fill="none"/>
<line x1="359.1" y1="534.9" x2="359.1" y2="536.7" stroke="#555" stroke-width="0.6"/>
<text x="359.1" y="547.6" font-size="5.8" text-anchor="middle" fill="#111" stroke="#111" stroke-width="0.1">0</text>
<line x1="385.66" y1="534.9" x2="385.66" y2="536.7" stroke="#555" stroke-width="0.6"/>
<text x="385.66" y="547.6" font-size="5.8" text-anchor="middle" fill="#111" stroke="#111" stroke-width="0.1">2</text>
<line x1="412.22" y1="534.9" x2="412.22" y2="536.7" stroke="#555" stroke-width="0.6"/>
<text x="412.22" y="547.6" font-size="5.8" text-anchor="middle" fill="#111" stroke="#111" stroke-width="0.1">4</text>
<line x1="438.78" y1="534.9" x2="438.78" y2="536.7" stroke="#555" stroke-width="0.6"/>
<text x="438.78" y="547.6" font-size="5.8" text-anchor="middle" fill="#111" stroke="#111" stroke-width="0.1">6</text>
<line x1="465.34" y1="534.9" x2="465.34" y2="536.7" stroke="#555" stroke-width="0.6"/>
<text x="465.34" y="547.6" font-size="5.8" text-anchor="middle" fill="#111" stroke="#111" stroke-width="0.1">8</text>
<line x1="491.9" y1="534.9" x2="491.9" y2="536.7" stroke="#555" stroke-width="0.6"/>
<text x="491.9" y="547.6" font-size="5.8" text-anchor="middle" fill="#111" stroke="#111" stroke-width="0.1">10</text>
<line x1="353.7" y1="531" x2="351.9" y2="531" stroke="#555" stroke-width="0.6"/>
<text x="346.8" y="531" font-size="5.7" text-anchor="middle" transform="rotate(-90 346.8 531)" fill="#111" stroke="#111" stroke-width="0.1">0.0</text>
<line x1="353.7" y1="511.04" x2="351.9" y2="511.04" stroke="#555" stroke-width="0.6"/>
<text x="346.8" y="511.04" font-size="5.7" text-anchor="middle" transform="rotate(-90 346.8 511.04)" fill="#111" stroke="#111" stroke-width="0.1">0.2</text>
<line x1="353.7" y1="491.08" x2="351.9" y2="491.08" stroke="#555" stroke-width="0.6"/>
<text x="346.8" y="491.08" font-size="5.7" text-anchor="middle" transform="rotate(-90 346.8 491.08)" fill="#111" stroke="#111" stroke-width="0.1">0.4</text>
<line x1="353.7" y1="471.12" x2="351.9" y2="471.12" stroke="#555" stroke-width="0.6"/>
<text x="346.8" y="471.12" font-size="5.7" text-anchor="middle" transform="rotate(-90 346.8 471.12)" fill="#111" stroke="#111" stroke-width="0.1">0.6</text>
<line x1="353.7" y1="451.16" x2="351.9" y2="451.16" stroke="#555" stroke-width="0.6"/>
<text x="346.8" y="451.16" font-size="5.7" text-anchor="middle" transform="rotate(-90 346.8 451.16)" fill="#111" stroke="#111" stroke-width="0.1">0.8</text>
<line x1="353.7" y1="431.2" x2="351.9" y2="431.2" stroke="#555" stroke-width="0.6"/>
<text x="346.8" y="431.2" font-size="5.7" text-anchor="middle" transform="rotate(-90 346.8 431.2)" fill="#111" stroke="#111" stroke-width="0.1">1.0</text>
<text x="426.4" y="560.7" font-size="5.9" text-anchor="middle" fill="#111" stroke="#111" stroke-width="0.1">Time (year)</text>
<text x="332.4" y="481.5" font-size="5.6" text-anchor="middle" transform="rotate(-90 332.4 481.5)" fill="#111" stroke="#111" stroke-width="0.1">Survival rate</text>
<rect x="455.8" y="427.3" width="42.7" height="20.3" stroke="#555" stroke-width="0.7" fill="#fff"/>
<line x1="459.6" y1="434.4" x2="471" y2="434.4" stroke="#F1BE45" stroke-width="0.95"/>
<line x1="459.6" y1="441.2" x2="471" y2="441.2" stroke="#2F7FD0" stroke-width="0.95"/>
<text x="475.5" y="436.5" font-size="5.9" fill="#111" stroke="#111" stroke-width="0.1">high PS</text>
<text x="475.5" y="443.3" font-size="5.9" fill="#111" stroke="#111" stroke-width="0.1">low PS</text>
<text x="63.45" y="582.4" font-size="11" text-anchor="middle" fill="#111" stroke="#111" stroke-width="0.42">G</text>
<text x="88.4" y="574.6" font-size="6.3" font-weight="bold" fill="#111">characteristics</text>
<text x="236.2" y="574.6" font-size="6.3" font-weight="bold" textLength="52" lengthAdjust="spacingAndGlyphs" fill="#111">Unadj.HR(95%CI)</text>
<text x="291.6" y="574.6" font-size="6.3" font-weight="bold" textLength="22" lengthAdjust="spacingAndGlyphs" fill="#111">P value</text>
<text x="417.6" y="574.6" font-size="6.3" font-weight="bold" textLength="44.6" lengthAdjust="spacingAndGlyphs" fill="#111">Adj.HR(95%CI)</text>
<text x="473" y="574.6" font-size="6.3" font-weight="bold" textLength="22" lengthAdjust="spacingAndGlyphs" fill="#111">P value</text>
<line x1="88" y1="578.3" x2="312.4" y2="578.3" stroke="#333" stroke-width="0.8"/>
<line x1="347.4" y1="578.3" x2="494.2" y2="578.3" stroke="#333" stroke-width="0.8"/>
<line x1="174.4" y1="590.5" x2="174.4" y2="774" stroke="#5E6E7C" stroke-width="0.65" stroke-dasharray="1 1"/>
<line x1="360.9" y1="590.5" x2="360.9" y2="774" stroke="#5E6E7C" stroke-width="0.65" stroke-dasharray="1 1"/>
<text x="88.4" y="586.7" font-size="6.3" font-weight="bold" fill="#111">Age</text>
<text x="88.4" y="598.78" font-size="6.15" fill="#222" stroke="#222" stroke-width="0.1">&gt;=60 vs. &lt;60</text>
<line x1="179.36" y1="596.63" x2="201.43" y2="596.63" stroke="#444" stroke-width="0.7"/>
<line x1="179.36" y1="595.43" x2="179.36" y2="597.83" stroke="#333" stroke-width="0.85"/>
<line x1="201.43" y1="595.43" x2="201.43" y2="597.83" stroke="#333" stroke-width="0.85"/>
<circle cx="190.4" cy="596.63" r="2.85" fill="#F4C04A" fill-opacity="0.92"/>
<text x="264.7" y="598.73" font-size="6.0" text-anchor="middle" fill="#222" stroke="#222" stroke-width="0.1">1.683(1.175−2.41)</text>
<text x="302.2" y="598.73" font-size="6.0" text-anchor="middle" fill="#222" stroke="#222" stroke-width="0.1">0.005</text>
<line x1="361.51" y1="596.63" x2="379.64" y2="596.63" stroke="#444" stroke-width="0.7"/>
<line x1="361.51" y1="595.43" x2="361.51" y2="597.83" stroke="#333" stroke-width="0.85"/>
<line x1="379.64" y1="595.43" x2="379.64" y2="597.83" stroke="#333" stroke-width="0.85"/>
<circle cx="370.56" cy="596.63" r="2.85" fill="#F4C04A" fill-opacity="0.92"/>
<text x="417.4" y="598.73" font-size="6.0" fill="#222" stroke="#222" stroke-width="0.1">1.497(1.026−2.187)</text>
<text x="473" y="598.73" font-size="6.0" fill="#222" stroke="#222" stroke-width="0.1">0.037</text>
<text x="88.4" y="610.96" font-size="6.3" font-weight="bold" fill="#111">Gender</text>
<text x="88.4" y="623.04" font-size="6.15" fill="#222" stroke="#222" stroke-width="0.1">Male vs. Female</text>
<line x1="164.73" y1="620.89" x2="187.23" y2="620.89" stroke="#444" stroke-width="0.7"/>
<line x1="164.73" y1="619.69" x2="164.73" y2="622.09" stroke="#333" stroke-width="0.85"/>
<line x1="187.23" y1="619.69" x2="187.23" y2="622.09" stroke="#333" stroke-width="0.85"/>
<circle cx="175.99" cy="620.89" r="2.85" fill="#F4C04A" fill-opacity="0.92"/>
<text x="264.7" y="622.99" font-size="6.0" text-anchor="middle" fill="#222" stroke="#222" stroke-width="0.1">1.053(0.73−1.518)</text>
<text x="302.2" y="622.99" font-size="6.0" text-anchor="middle" fill="#222" stroke="#222" stroke-width="0.1">0.784</text>
<line x1="353.69" y1="620.89" x2="372.05" y2="620.89" stroke="#444" stroke-width="0.7"/>
<line x1="353.69" y1="619.69" x2="353.69" y2="622.09" stroke="#333" stroke-width="0.85"/>
<line x1="372.05" y1="619.69" x2="372.05" y2="622.09" stroke="#333" stroke-width="0.85"/>
<circle cx="362.88" cy="620.89" r="2.85" fill="#F4C04A" fill-opacity="0.92"/>
<text x="417.4" y="622.99" font-size="6.0" fill="#222" stroke="#222" stroke-width="0.1">1.086(0.74−1.593)</text>
<text x="473" y="622.99" font-size="6.0" fill="#222" stroke="#222" stroke-width="0.1">0.673</text>
<text x="88.4" y="635.22" font-size="6.3" font-weight="bold" fill="#111">Grade</text>
<text x="88.4" y="647.3" font-size="6.15" fill="#222" stroke="#222" stroke-width="0.1">G3/G4/GX vs. G1/G2</text>
<line x1="192.43" y1="645.15" x2="217.05" y2="645.15" stroke="#444" stroke-width="0.7"/>
<line x1="192.43" y1="643.95" x2="192.43" y2="646.35" stroke="#333" stroke-width="0.85"/>
<line x1="217.05" y1="643.95" x2="217.05" y2="646.35" stroke="#333" stroke-width="0.85"/>
<circle cx="204.74" cy="645.15" r="2.85" fill="#F4C04A" fill-opacity="0.92"/>
<text x="264.7" y="647.25" font-size="6.0" text-anchor="middle" fill="#222" stroke="#222" stroke-width="0.1">2.684(1.798−4.007)</text>
<text x="302.2" y="647.25" font-size="6.0" text-anchor="middle" fill="#222" stroke="#222" stroke-width="0.1">&lt; 0.001</text>
<line x1="362.63" y1="645.15" x2="383.05" y2="645.15" stroke="#444" stroke-width="0.7"/>
<line x1="362.63" y1="643.95" x2="362.63" y2="646.35" stroke="#333" stroke-width="0.85"/>
<line x1="383.05" y1="643.95" x2="383.05" y2="646.35" stroke="#333" stroke-width="0.85"/>
<circle cx="372.85" cy="645.15" r="2.85" fill="#F4C04A" fill-opacity="0.92"/>
<text x="417.4" y="647.25" font-size="6.0" fill="#222" stroke="#222" stroke-width="0.1">1.647(1.075−2.522)</text>
<text x="473" y="647.25" font-size="6.0" fill="#222" stroke="#222" stroke-width="0.1">0.022</text>
<text x="88.4" y="659.48" font-size="6.3" font-weight="bold" fill="#111">Stage</text>
<text x="88.4" y="671.56" font-size="6.15" fill="#222" stroke="#222" stroke-width="0.1">Stage III/IV vs. Stage I/II</text>
<line x1="210.59" y1="669.41" x2="233.57" y2="669.41" stroke="#444" stroke-width="0.7"/>
<line x1="210.59" y1="668.21" x2="210.59" y2="670.61" stroke="#333" stroke-width="0.85"/>
<line x1="233.57" y1="668.21" x2="233.57" y2="670.61" stroke="#333" stroke-width="0.85"/>
<circle cx="222.08" cy="669.41" r="2.85" fill="#F4C04A" fill-opacity="0.92"/>
<text x="264.7" y="671.51" font-size="6.0" text-anchor="middle" fill="#222" stroke="#222" stroke-width="0.1">4.719(3.247−6.859)</text>
<text x="302.2" y="671.51" font-size="6.0" text-anchor="middle" fill="#222" stroke="#222" stroke-width="0.1">&lt; 0.001</text>
<line x1="377.58" y1="669.41" x2="414.5" y2="669.41" stroke="#444" stroke-width="0.7"/>
<line x1="377.58" y1="668.21" x2="377.58" y2="670.61" stroke="#333" stroke-width="0.85"/>
<line x1="414.5" y1="668.21" x2="414.5" y2="670.61" stroke="#333" stroke-width="0.85"/>
<circle cx="396.04" cy="669.41" r="2.85" fill="#F4C04A" fill-opacity="0.92"/>
<text x="417.4" y="671.51" font-size="6.0" fill="#222" stroke="#222" stroke-width="0.1">4.338(2.007−9.377)</text>
<text x="473" y="671.51" font-size="6.0" fill="#222" stroke="#222" stroke-width="0.1">&lt; 0.001</text>
<text x="88.4" y="683.74" font-size="6.3" font-weight="bold" fill="#111">T_stage</text>
<text x="88.4" y="695.82" font-size="6.15" fill="#222" stroke="#222" stroke-width="0.1">T3/T4 vs. T1/T2</text>
<line x1="201.85" y1="693.67" x2="223.6" y2="693.67" stroke="#444" stroke-width="0.7"/>
<line x1="201.85" y1="692.47" x2="201.85" y2="694.87" stroke="#333" stroke-width="0.85"/>
<line x1="223.6" y1="692.47" x2="223.6" y2="694.87" stroke="#333" stroke-width="0.85"/>
<circle cx="212.72" cy="693.67" r="2.85" fill="#F4C04A" fill-opacity="0.92"/>
<text x="264.7" y="695.77" font-size="6.0" text-anchor="middle" fill="#222" stroke="#222" stroke-width="0.1">3.48(2.443−4.958)</text>
<text x="302.2" y="695.77" font-size="6.0" text-anchor="middle" fill="#222" stroke="#222" stroke-width="0.1">&lt; 0.001</text>
<line x1="333.61" y1="693.67" x2="365.94" y2="693.67" stroke="#444" stroke-width="0.7"/>
<line x1="333.61" y1="692.47" x2="333.61" y2="694.87" stroke="#333" stroke-width="0.85"/>
<line x1="365.94" y1="692.47" x2="365.94" y2="694.87" stroke="#333" stroke-width="0.85"/>
<circle cx="349.8" cy="693.67" r="2.85" fill="#F4C04A" fill-opacity="0.92"/>
<text x="417.4" y="695.77" font-size="6.0" fill="#222" stroke="#222" stroke-width="0.1">0.629(0.32−1.234)</text>
<text x="473" y="695.77" font-size="6.0" fill="#222" stroke="#222" stroke-width="0.1">0.178</text>
<text x="88.4" y="708" font-size="6.3" font-weight="bold" fill="#111">M_satge</text>
<text x="88.4" y="720.08" font-size="6.15" fill="#222" stroke="#222" stroke-width="0.1">M1/MX vs. M0</text>
<line x1="207.42" y1="717.93" x2="229.79" y2="717.93" stroke="#444" stroke-width="0.7"/>
<line x1="207.42" y1="716.73" x2="207.42" y2="719.13" stroke="#333" stroke-width="0.85"/>
<line x1="229.79" y1="716.73" x2="229.79" y2="719.13" stroke="#333" stroke-width="0.85"/>
<circle cx="218.61" cy="717.93" r="2.85" fill="#F4C04A" fill-opacity="0.92"/>
<text x="264.7" y="720.03" font-size="6.0" text-anchor="middle" fill="#222" stroke="#222" stroke-width="0.1">4.215(2.929−6.065)</text>
<text x="302.2" y="720.03" font-size="6.0" text-anchor="middle" fill="#222" stroke="#222" stroke-width="0.1">&lt; 0.001</text>
<line x1="367.84" y1="717.93" x2="388.99" y2="717.93" stroke="#444" stroke-width="0.7"/>
<line x1="367.84" y1="716.73" x2="367.84" y2="719.13" stroke="#333" stroke-width="0.85"/>
<line x1="388.99" y1="716.73" x2="388.99" y2="719.13" stroke="#333" stroke-width="0.85"/>
<circle cx="378.42" cy="717.93" r="2.85" fill="#F4C04A" fill-opacity="0.92"/>
<text x="417.4" y="720.03" font-size="6.0" fill="#222" stroke="#222" stroke-width="0.1">2.078(1.336−3.232)</text>
<text x="473" y="720.03" font-size="6.0" fill="#222" stroke="#222" stroke-width="0.1">0.001</text>
<text x="88.4" y="732.26" font-size="6.3" font-weight="bold" fill="#111">N_stage</text>
<text x="88.4" y="744.34" font-size="6.15" fill="#222" stroke="#222" stroke-width="0.1">N1/NX vs. N0</text>
<line x1="157.71" y1="742.19" x2="179.2" y2="742.19" stroke="#444" stroke-width="0.7"/>
<line x1="157.71" y1="740.99" x2="157.71" y2="743.39" stroke="#333" stroke-width="0.85"/>
<line x1="179.2" y1="740.99" x2="179.2" y2="743.39" stroke="#333" stroke-width="0.85"/>
<circle cx="168.45" cy="742.19" r="2.85" fill="#F4C04A" fill-opacity="0.92"/>
<text x="264.7" y="744.29" font-size="6.0" text-anchor="middle" fill="#222" stroke="#222" stroke-width="0.1">0.824(0.581−1.169)</text>
<text x="302.2" y="744.29" font-size="6.0" text-anchor="middle" fill="#222" stroke="#222" stroke-width="0.1">0.278</text>
<line x1="341.88" y1="742.19" x2="359.16" y2="742.19" stroke="#444" stroke-width="0.7"/>
<line x1="341.88" y1="740.99" x2="341.88" y2="743.39" stroke="#333" stroke-width="0.85"/>
<line x1="359.16" y1="740.99" x2="359.16" y2="743.39" stroke="#333" stroke-width="0.85"/>
<circle cx="350.51" cy="742.19" r="2.85" fill="#F4C04A" fill-opacity="0.92"/>
<text x="417.4" y="744.29" font-size="6.0" fill="#222" stroke="#222" stroke-width="0.1">0.648(0.452−0.93)</text>
<text x="473" y="744.29" font-size="6.0" fill="#222" stroke="#222" stroke-width="0.1">0.019</text>
<text x="88.4" y="756.52" font-size="6.3" font-weight="bold" fill="#111">PS</text>
<text x="88.4" y="768.6" font-size="6.15" fill="#222" stroke="#222" stroke-width="0.1">high vs. low</text>
<line x1="181.26" y1="766.45" x2="203.01" y2="766.45" stroke="#444" stroke-width="0.7"/>
<line x1="181.26" y1="765.25" x2="181.26" y2="767.65" stroke="#333" stroke-width="0.85"/>
<line x1="203.01" y1="765.25" x2="203.01" y2="767.65" stroke="#333" stroke-width="0.85"/>
<circle cx="192.14" cy="766.45" r="2.85" fill="#F4C04A" fill-opacity="0.92"/>
<text x="264.7" y="768.55" font-size="6.0" text-anchor="middle" fill="#222" stroke="#222" stroke-width="0.1">1.781(1.25−2.537)</text>
<text x="302.2" y="768.55" font-size="6.0" text-anchor="middle" fill="#222" stroke="#222" stroke-width="0.1">0.001</text>
<line x1="364.72" y1="766.45" x2="382.46" y2="766.45" stroke="#444" stroke-width="0.7"/>
<line x1="364.72" y1="765.25" x2="364.72" y2="767.65" stroke="#333" stroke-width="0.85"/>
<line x1="382.46" y1="765.25" x2="382.46" y2="767.65" stroke="#333" stroke-width="0.85"/>
<circle cx="373.58" cy="766.45" r="2.85" fill="#F4C04A" fill-opacity="0.92"/>
<text x="417.4" y="768.55" font-size="6.0" fill="#222" stroke="#222" stroke-width="0.1">1.698(1.173−2.46)</text>
<text x="473" y="768.55" font-size="6.0" fill="#222" stroke="#222" stroke-width="0.1">0.005</text>
<line x1="153.1" y1="774" x2="217" y2="774" stroke="#333" stroke-width="0.7"/>
<line x1="153.1" y1="774" x2="153.1" y2="776" stroke="#333" stroke-width="0.6"/>
<text x="153.1" y="785.2" font-size="5.6" text-anchor="middle" fill="#222" stroke="#222" stroke-width="0.1">0.50</text>
<line x1="174.4" y1="774" x2="174.4" y2="776" stroke="#333" stroke-width="0.6"/>
<text x="174.4" y="785.2" font-size="5.6" text-anchor="middle" fill="#222" stroke="#222" stroke-width="0.1">1.0</text>
<line x1="195.7" y1="774" x2="195.7" y2="776" stroke="#333" stroke-width="0.6"/>
<text x="195.7" y="785.2" font-size="5.6" text-anchor="middle" fill="#222" stroke="#222" stroke-width="0.1">2.0</text>
<line x1="217" y1="774" x2="217" y2="776" stroke="#333" stroke-width="0.6"/>
<text x="217" y="785.2" font-size="5.6" text-anchor="middle" fill="#222" stroke="#222" stroke-width="0.1">4.0</text>
<line x1="344.3" y1="774" x2="410.7" y2="774" stroke="#333" stroke-width="0.7"/>
<line x1="344.3" y1="774" x2="344.3" y2="776" stroke="#333" stroke-width="0.6"/>
<text x="344.3" y="785.2" font-size="5.6" text-anchor="middle" fill="#222" stroke="#222" stroke-width="0.1">0.50</text>
<line x1="360.9" y1="774" x2="360.9" y2="776" stroke="#333" stroke-width="0.6"/>
<text x="360.9" y="785.2" font-size="5.6" text-anchor="middle" fill="#222" stroke="#222" stroke-width="0.1">1.0</text>
<line x1="377.5" y1="774" x2="377.5" y2="776" stroke="#333" stroke-width="0.6"/>
<text x="377.5" y="785.2" font-size="5.6" text-anchor="middle" fill="#222" stroke="#222" stroke-width="0.1">2.0</text>
<line x1="394.1" y1="774" x2="394.1" y2="776" stroke="#333" stroke-width="0.6"/>
<text x="394.1" y="785.2" font-size="5.6" text-anchor="middle" fill="#222" stroke="#222" stroke-width="0.1">4.0</text>
<line x1="410.7" y1="774" x2="410.7" y2="776" stroke="#333" stroke-width="0.6"/>
<text x="410.7" y="785.2" font-size="5.6" text-anchor="middle" fill="#222" stroke="#222" stroke-width="0.1">8.0</text>
</svg></body></html>
